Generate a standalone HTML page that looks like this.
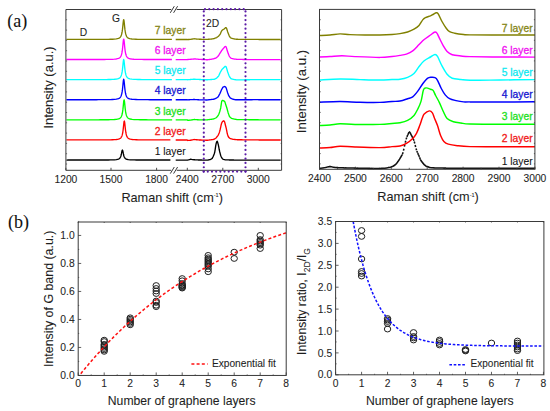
<!DOCTYPE html><html><head><meta charset="utf-8"><style>html,body{margin:0;padding:0;background:#fff;}svg{display:block;}text{font-family:'Liberation Sans',sans-serif;stroke-width:0.08px;}text.c{stroke-width:0.3px;}</style></head><body>
<svg width="550" height="411" viewBox="0 0 550 411">
<rect width="550" height="411" fill="#fff"/>
<text x="7.3" y="26.5" font-family="Liberation Serif" font-size="18" fill="#111" stroke="#111" style="font-family:'Liberation Serif',serif">(a)</text>
<text x="8" y="227.7" font-family="Liberation Serif" font-size="18" fill="#111" stroke="#111" style="font-family:'Liberation Serif',serif">(b)</text>
<path d="M66.4,39.44 L68.4,39.44 L70.4,39.44 L72.4,39.44 L74.4,39.44 L76.4,39.44 L78.4,39.43 L80.4,39.43 L82.4,39.43 L84.4,39.43 L86.4,39.43 L88.4,39.43 L90.4,39.42 L92.4,39.42 L94.4,39.41 L96.4,39.41 L98.4,39.4 L100.4,39.39 L102.4,39.38 L104.4,39.37 L106.4,39.35 L108.4,39.32 L110.4,39.28 L112.4,39.21 L114.4,39.1 L116.4,38.89 L118.4,38.41 L118.65,38.31 L118.9,38.19 L119.15,38.06 L119.4,37.91 L119.65,37.73 L119.9,37.52 L120.15,37.27 L120.4,36.97 L120.65,36.6 L120.9,36.16 L121.15,35.61 L121.4,34.94 L121.65,34.08 L121.9,33.01 L122.15,31.65 L122.4,29.94 L122.65,27.84 L122.9,25.4 L123.15,22.86 L123.4,20.73 L123.65,19.68 L123.9,20.14 L124.15,21.92 L124.4,24.38 L124.65,26.9 L124.9,29.15 L125.15,31.01 L125.4,32.5 L125.65,33.68 L125.9,34.62 L126.15,35.36 L126.4,35.96 L126.65,36.44 L126.9,36.83 L127.15,37.15 L127.4,37.42 L127.65,37.65 L127.9,37.84 L128.15,38 L128.4,38.14 L128.65,38.26 L128.9,38.37 L129.15,38.46 L129.4,38.54 L129.65,38.61 L129.9,38.68 L131.9,39 L133.9,39.16 L135.9,39.24 L137.9,39.3 L139.9,39.33 L141.9,39.36 L143.9,39.37 L145.9,39.39 L147.9,39.4 L149.9,39.41 L151.9,39.41 L153.9,39.42 L155.9,39.42 L157.9,39.42 L159.9,39.43 L161.9,39.43 L163.9,39.43 L165.9,39.43 L167.9,39.43 L169.9,39.44 L171.9,39.44" fill="none" stroke="#808000" stroke-width="1.35" stroke-linejoin="round"/>
<path d="M175.7,39.45 L176.2,39.45 L176.7,39.45 L177.2,39.45 L177.7,39.45 L178.2,39.45 L178.7,39.45 L179.2,39.45 L179.7,39.45 L180.2,39.45 L180.7,39.45 L181.2,39.45 L181.7,39.45 L182.2,39.45 L182.7,39.45 L183.2,39.45 L183.7,39.45 L184.2,39.45 L184.7,39.45 L185.2,39.45 L185.7,39.45 L186.2,39.45 L186.7,39.45 L187.2,39.45 L187.7,39.58 L188.2,39.54 L188.7,39.5 L189.2,39.46 L189.7,39.43 L190.2,39.39 L190.7,39.35 L191.2,39.27 L191.7,39.18 L192.2,39.09 L192.7,39 L193.2,38.91 L193.7,38.82 L194.2,38.77 L194.7,38.83 L195.2,38.88 L195.7,38.94 L196.2,39 L196.7,39.05 L197.2,39.11 L197.7,39.14 L198.2,39.16 L198.7,39.19 L199.2,39.21 L199.7,39.23 L200.2,39.25 L200.7,39.27 L201.2,39.29 L201.7,39.32 L202.2,39.34 L202.7,39.34 L203.2,39.34 L203.7,39.34 L204.2,39.34 L204.7,39.34 L205.2,39.34 L205.7,39.34 L206.2,39.34 L206.7,39.34 L207.2,39.34 L207.7,39.31 L208.2,39.28 L208.7,39.25 L209.2,39.21 L209.7,39.18 L210.2,39.15 L210.7,39.11 L211.2,39.08 L211.7,38.99 L212.2,38.9 L212.7,38.81 L213.2,38.72 L213.7,38.63 L214.2,38.49 L214.7,38.32 L215.2,38.15 L215.7,37.98 L216.2,37.81 L216.7,37.53 L217.2,37.17 L217.7,36.82 L218.2,36.46 L218.7,36.01 L219.2,35.39 L219.7,34.78 L220.2,34.12 L220.7,32.92 L221.2,31.71 L221.7,30.8 L222.2,30.18 L222.7,29.83 L223.2,29.53 L223.7,29.23 L224.2,28.87 L224.7,28.45 L225.2,28.03 L225.7,27.62 L226.2,27.77 L226.7,28.68 L227.2,30.3 L227.7,31.92 L228.2,33.25 L228.7,34.54 L229.2,35.83 L229.7,36.65 L230.2,37.46 L230.7,37.78 L231.2,38.02 L231.7,38.26 L232.2,38.44 L232.7,38.56 L233.2,38.67 L233.7,38.79 L234.2,38.91 L234.7,39.03 L235.2,39.11 L235.7,39.16 L236.2,39.21 L236.7,39.26 L237.2,39.29 L237.7,39.29 L238.2,39.3 L238.7,39.3 L239.2,39.3 L239.7,39.3 L240.2,39.31 L240.7,39.31 L241.2,39.31 L241.7,39.31 L242.2,39.32 L242.7,39.32 L243.2,39.32 L243.7,39.33 L244.2,39.33 L244.7,39.33 L245.2,39.33 L245.7,39.34 L246.2,39.34 L246.7,39.34 L247.2,39.34 L247.7,39.34 L248.2,39.34 L248.7,39.34 L249.2,39.34 L249.7,39.34 L250.2,39.34 L250.7,39.34 L251.2,39.34 L251.7,39.34 L252.2,39.34 L252.7,39.34 L253.2,39.34 L253.7,39.34 L254.2,39.34 L254.7,39.34 L255.2,39.34 L255.7,39.34 L256.2,39.34 L256.7,39.34 L257.2,39.34 L257.7,39.34 L258.2,39.34 L258.7,39.45 L259.2,39.45 L259.7,39.45 L260.2,39.45 L260.7,39.45 L261.2,39.45 L261.7,39.45 L262.2,39.45 L262.7,39.45 L263.2,39.45 L263.7,39.45 L264.2,39.45 L264.7,39.45 L265.2,39.45 L265.7,39.45 L266.2,39.45 L266.7,39.45 L267.2,39.45 L267.7,39.45 L268.2,39.45 L268.7,39.45 L269.2,39.45 L269.7,39.45 L270.2,39.45 L270.7,39.45 L271.2,39.45 L271.7,39.45 L272.2,39.45 L272.7,39.45 L273.2,39.45 L273.7,39.45 L274.2,39.45 L274.7,39.45 L275.2,39.45 L275.7,39.45 L276.2,39.45 L276.7,39.45 L277.2,39.45 L277.7,39.45 L278.2,39.45 L278.7,39.45 L279.2,39.45 L279.7,39.45 L280.2,39.45 L280.7,39.45" fill="none" stroke="#808000" stroke-width="1.35" stroke-linejoin="round"/>
<path d="M66.4,59.54 L68.4,59.54 L70.4,59.54 L72.4,59.54 L74.4,59.54 L76.4,59.54 L78.4,59.53 L80.4,59.53 L82.4,59.53 L84.4,59.53 L86.4,59.53 L88.4,59.52 L90.4,59.52 L92.4,59.52 L94.4,59.51 L96.4,59.51 L98.4,59.5 L100.4,59.49 L102.4,59.48 L104.4,59.46 L106.4,59.44 L108.4,59.41 L110.4,59.37 L112.4,59.3 L114.4,59.19 L116.4,58.97 L118.4,58.47 L118.65,58.37 L118.9,58.25 L119.15,58.11 L119.4,57.95 L119.65,57.77 L119.9,57.55 L120.15,57.29 L120.4,56.98 L120.65,56.6 L120.9,56.14 L121.15,55.58 L121.4,54.88 L121.65,53.99 L121.9,52.88 L122.15,51.47 L122.4,49.7 L122.65,47.53 L122.9,45.01 L123.15,42.38 L123.4,40.17 L123.65,39.08 L123.9,39.56 L124.15,41.4 L124.4,43.94 L124.65,46.56 L124.9,48.88 L125.15,50.81 L125.4,52.36 L125.65,53.58 L125.9,54.55 L126.15,55.32 L126.4,55.93 L126.65,56.43 L126.9,56.84 L127.15,57.17 L127.4,57.45 L127.65,57.68 L127.9,57.88 L128.15,58.05 L128.4,58.2 L128.65,58.32 L128.9,58.43 L129.15,58.53 L129.4,58.61 L129.65,58.68 L129.9,58.75 L131.9,59.08 L133.9,59.25 L135.9,59.34 L137.9,59.39 L139.9,59.43 L141.9,59.45 L143.9,59.47 L145.9,59.49 L147.9,59.5 L149.9,59.5 L151.9,59.51 L153.9,59.51 L155.9,59.52 L157.9,59.52 L159.9,59.53 L161.9,59.53 L163.9,59.53 L165.9,59.53 L167.9,59.53 L169.9,59.54 L171.9,59.54" fill="none" stroke="#ff00ff" stroke-width="1.35" stroke-linejoin="round"/>
<path d="M175.7,59.55 L176.2,59.55 L176.7,59.55 L177.2,59.55 L177.7,59.55 L178.2,59.55 L178.7,59.55 L179.2,59.55 L179.7,59.55 L180.2,59.55 L180.7,59.55 L181.2,59.55 L181.7,59.55 L182.2,59.55 L182.7,59.55 L183.2,59.55 L183.7,59.55 L184.2,59.55 L184.7,59.55 L185.2,59.55 L185.7,59.55 L186.2,59.55 L186.7,59.55 L187.2,59.55 L187.7,59.52 L188.2,59.48 L188.7,59.44 L189.2,59.4 L189.7,59.36 L190.2,59.33 L190.7,59.29 L191.2,59.24 L191.7,59.19 L192.2,59.15 L192.7,59.1 L193.2,59.05 L193.7,59.01 L194.2,58.96 L194.7,58.91 L195.2,58.95 L195.7,59 L196.2,59.05 L196.7,59.1 L197.2,59.15 L197.7,59.2 L198.2,59.25 L198.7,59.3 L199.2,59.35 L199.7,59.37 L200.2,59.4 L200.7,59.42 L201.2,59.45 L201.7,59.47 L202.2,59.5 L202.7,59.53 L203.2,59.55 L203.7,59.58 L204.2,59.6 L204.7,59.63 L205.2,59.66 L205.7,59.68 L206.2,59.71 L206.7,59.73 L207.2,59.76 L207.7,59.71 L208.2,59.65 L208.7,59.59 L209.2,59.53 L209.7,59.47 L210.2,59.41 L210.7,59.35 L211.2,59.29 L211.7,59.18 L212.2,59.07 L212.7,58.96 L213.2,58.85 L213.7,58.74 L214.2,58.59 L214.7,58.43 L215.2,58.26 L215.7,58.1 L216.2,57.84 L216.7,57.43 L217.2,57.01 L217.7,56.6 L218.2,56.1 L218.7,55.29 L219.2,54.48 L219.7,53.67 L220.2,52.86 L220.7,52.07 L221.2,51.27 L221.7,50.48 L222.2,49.82 L222.7,49.24 L223.2,48.66 L223.7,48.08 L224.2,47.5 L224.7,46.92 L225.2,46.34 L225.7,46.54 L226.2,47.17 L226.7,48.82 L227.2,50.43 L227.7,52.01 L228.2,53.58 L228.7,54.79 L229.2,56.01 L229.7,56.87 L230.2,57.37 L230.7,57.88 L231.2,58.34 L231.7,58.46 L232.2,58.58 L232.7,58.69 L233.2,58.81 L233.7,58.93 L234.2,59.03 L234.7,59.09 L235.2,59.14 L235.7,59.19 L236.2,59.25 L236.7,59.3 L237.2,59.34 L237.7,59.35 L238.2,59.36 L238.7,59.37 L239.2,59.38 L239.7,59.39 L240.2,59.4 L240.7,59.42 L241.2,59.43 L241.7,59.44 L242.2,59.45 L242.7,59.46 L243.2,59.47 L243.7,59.48 L244.2,59.49 L244.7,59.5 L245.2,59.51 L245.7,59.52 L246.2,59.53 L246.7,59.55 L247.2,59.55 L247.7,59.55 L248.2,59.56 L248.7,59.56 L249.2,59.56 L249.7,59.56 L250.2,59.57 L250.7,59.57 L251.2,59.57 L251.7,59.57 L252.2,59.57 L252.7,59.58 L253.2,59.58 L253.7,59.58 L254.2,59.58 L254.7,59.59 L255.2,59.59 L255.7,59.59 L256.2,59.59 L256.7,59.6 L257.2,59.6 L257.7,59.6 L258.2,59.6 L258.7,59.55 L259.2,59.55 L259.7,59.55 L260.2,59.55 L260.7,59.55 L261.2,59.55 L261.7,59.55 L262.2,59.55 L262.7,59.55 L263.2,59.55 L263.7,59.55 L264.2,59.55 L264.7,59.55 L265.2,59.55 L265.7,59.55 L266.2,59.55 L266.7,59.55 L267.2,59.55 L267.7,59.55 L268.2,59.55 L268.7,59.55 L269.2,59.55 L269.7,59.55 L270.2,59.55 L270.7,59.55 L271.2,59.55 L271.7,59.55 L272.2,59.55 L272.7,59.55 L273.2,59.55 L273.7,59.55 L274.2,59.55 L274.7,59.55 L275.2,59.55 L275.7,59.55 L276.2,59.55 L276.7,59.55 L277.2,59.55 L277.7,59.55 L278.2,59.55 L278.7,59.55 L279.2,59.55 L279.7,59.55 L280.2,59.55 L280.7,59.55" fill="none" stroke="#ff00ff" stroke-width="1.35" stroke-linejoin="round"/>
<path d="M66.4,79.64 L68.4,79.64 L70.4,79.64 L72.4,79.64 L74.4,79.64 L76.4,79.64 L78.4,79.63 L80.4,79.63 L82.4,79.63 L84.4,79.63 L86.4,79.63 L88.4,79.62 L90.4,79.62 L92.4,79.62 L94.4,79.61 L96.4,79.61 L98.4,79.6 L100.4,79.59 L102.4,79.58 L104.4,79.57 L106.4,79.55 L108.4,79.52 L110.4,79.47 L112.4,79.41 L114.4,79.29 L116.4,79.07 L118.4,78.59 L118.65,78.48 L118.9,78.37 L119.15,78.23 L119.4,78.08 L119.65,77.89 L119.9,77.68 L120.15,77.42 L120.4,77.12 L120.65,76.75 L120.9,76.29 L121.15,75.74 L121.4,75.04 L121.65,74.18 L121.9,73.08 L122.15,71.69 L122.4,69.95 L122.65,67.81 L122.9,65.32 L123.15,62.73 L123.4,60.55 L123.65,59.48 L123.9,59.95 L124.15,61.77 L124.4,64.27 L124.65,66.85 L124.9,69.14 L125.15,71.04 L125.4,72.56 L125.65,73.77 L125.9,74.72 L126.15,75.48 L126.4,76.08 L126.65,76.58 L126.9,76.98 L127.15,77.31 L127.4,77.58 L127.65,77.81 L127.9,78.01 L128.15,78.17 L128.4,78.32 L128.65,78.44 L128.9,78.55 L129.15,78.64 L129.4,78.72 L129.65,78.8 L129.9,78.86 L131.9,79.19 L133.9,79.35 L135.9,79.44 L137.9,79.49 L139.9,79.53 L141.9,79.56 L143.9,79.57 L145.9,79.59 L147.9,79.6 L149.9,79.6 L151.9,79.61 L153.9,79.62 L155.9,79.62 L157.9,79.62 L159.9,79.63 L161.9,79.63 L163.9,79.63 L165.9,79.63 L167.9,79.63 L169.9,79.64 L171.9,79.64" fill="none" stroke="#00ffff" stroke-width="1.35" stroke-linejoin="round"/>
<path d="M175.7,79.65 L176.2,79.65 L176.7,79.65 L177.2,79.65 L177.7,79.65 L178.2,79.65 L178.7,79.65 L179.2,79.65 L179.7,79.65 L180.2,79.65 L180.7,79.65 L181.2,79.65 L181.7,79.65 L182.2,79.65 L182.7,79.65 L183.2,79.65 L183.7,79.65 L184.2,79.65 L184.7,79.65 L185.2,79.65 L185.7,79.65 L186.2,79.65 L186.7,79.65 L187.2,79.65 L187.7,79.73 L188.2,79.69 L188.7,79.65 L189.2,79.61 L189.7,79.57 L190.2,79.53 L190.7,79.49 L191.2,79.45 L191.7,79.41 L192.2,79.37 L192.7,79.33 L193.2,79.29 L193.7,79.25 L194.2,79.23 L194.7,79.25 L195.2,79.28 L195.7,79.3 L196.2,79.33 L196.7,79.35 L197.2,79.37 L197.7,79.4 L198.2,79.42 L198.7,79.45 L199.2,79.47 L199.7,79.5 L200.2,79.52 L200.7,79.54 L201.2,79.56 L201.7,79.58 L202.2,79.59 L202.7,79.61 L203.2,79.62 L203.7,79.64 L204.2,79.66 L204.7,79.67 L205.2,79.69 L205.7,79.71 L206.2,79.72 L206.7,79.74 L207.2,79.75 L207.7,79.73 L208.2,79.7 L208.7,79.66 L209.2,79.63 L209.7,79.59 L210.2,79.56 L210.7,79.53 L211.2,79.49 L211.7,79.47 L212.2,79.45 L212.7,79.43 L213.2,79.41 L213.7,79.39 L214.2,79.26 L214.7,79.05 L215.2,78.85 L215.7,78.65 L216.2,78.45 L216.7,78.07 L217.2,77.58 L217.7,77.08 L218.2,76.59 L218.7,75.86 L219.2,74.75 L219.7,73.64 L220.2,72.53 L220.7,71.63 L221.2,70.72 L221.7,69.82 L222.2,69.17 L222.7,68.69 L223.2,68.2 L223.7,67.71 L224.2,67.24 L224.7,66.79 L225.2,66.34 L225.7,66.42 L226.2,67.04 L226.7,68.58 L227.2,70.29 L227.7,72 L228.2,73.37 L228.7,74.69 L229.2,76 L229.7,76.98 L230.2,77.61 L230.7,78.25 L231.2,78.81 L231.7,78.93 L232.2,79.05 L232.7,79.17 L233.2,79.29 L233.7,79.41 L234.2,79.51 L234.7,79.58 L235.2,79.66 L235.7,79.73 L236.2,79.8 L236.7,79.87 L237.2,79.91 L237.7,79.91 L238.2,79.9 L238.7,79.89 L239.2,79.88 L239.7,79.87 L240.2,79.87 L240.7,79.86 L241.2,79.85 L241.7,79.84 L242.2,79.83 L242.7,79.83 L243.2,79.82 L243.7,79.81 L244.2,79.8 L244.7,79.79 L245.2,79.78 L245.7,79.78 L246.2,79.77 L246.7,79.76 L247.2,79.75 L247.7,79.74 L248.2,79.73 L248.7,79.72 L249.2,79.71 L249.7,79.71 L250.2,79.7 L250.7,79.69 L251.2,79.68 L251.7,79.67 L252.2,79.66 L252.7,79.65 L253.2,79.64 L253.7,79.63 L254.2,79.62 L254.7,79.61 L255.2,79.6 L255.7,79.59 L256.2,79.58 L256.7,79.58 L257.2,79.57 L257.7,79.56 L258.2,79.55 L258.7,79.65 L259.2,79.65 L259.7,79.65 L260.2,79.65 L260.7,79.65 L261.2,79.65 L261.7,79.65 L262.2,79.65 L262.7,79.65 L263.2,79.65 L263.7,79.65 L264.2,79.65 L264.7,79.65 L265.2,79.65 L265.7,79.65 L266.2,79.65 L266.7,79.65 L267.2,79.65 L267.7,79.65 L268.2,79.65 L268.7,79.65 L269.2,79.65 L269.7,79.65 L270.2,79.65 L270.7,79.65 L271.2,79.65 L271.7,79.65 L272.2,79.65 L272.7,79.65 L273.2,79.65 L273.7,79.65 L274.2,79.65 L274.7,79.65 L275.2,79.65 L275.7,79.65 L276.2,79.65 L276.7,79.65 L277.2,79.65 L277.7,79.65 L278.2,79.65 L278.7,79.65 L279.2,79.65 L279.7,79.65 L280.2,79.65 L280.7,79.65" fill="none" stroke="#00ffff" stroke-width="1.35" stroke-linejoin="round"/>
<path d="M66.4,99.74 L68.4,99.74 L70.4,99.74 L72.4,99.74 L74.4,99.74 L76.4,99.74 L78.4,99.73 L80.4,99.73 L82.4,99.73 L84.4,99.73 L86.4,99.73 L88.4,99.72 L90.4,99.72 L92.4,99.72 L94.4,99.71 L96.4,99.71 L98.4,99.7 L100.4,99.69 L102.4,99.68 L104.4,99.66 L106.4,99.64 L108.4,99.61 L110.4,99.57 L112.4,99.5 L114.4,99.39 L116.4,99.17 L118.4,98.67 L118.65,98.57 L118.9,98.45 L119.15,98.31 L119.4,98.15 L119.65,97.97 L119.9,97.75 L120.15,97.49 L120.4,97.18 L120.65,96.8 L120.9,96.34 L121.15,95.78 L121.4,95.08 L121.65,94.19 L121.9,93.08 L122.15,91.67 L122.4,89.9 L122.65,87.73 L122.9,85.21 L123.15,82.58 L123.4,80.37 L123.65,79.28 L123.9,79.76 L124.15,81.6 L124.4,84.14 L124.65,86.76 L124.9,89.08 L125.15,91.01 L125.4,92.56 L125.65,93.78 L125.9,94.75 L126.15,95.52 L126.4,96.13 L126.65,96.63 L126.9,97.04 L127.15,97.37 L127.4,97.65 L127.65,97.88 L127.9,98.08 L128.15,98.25 L128.4,98.4 L128.65,98.52 L128.9,98.63 L129.15,98.73 L129.4,98.81 L129.65,98.88 L129.9,98.95 L131.9,99.28 L133.9,99.45 L135.9,99.54 L137.9,99.59 L139.9,99.63 L141.9,99.65 L143.9,99.67 L145.9,99.69 L147.9,99.7 L149.9,99.7 L151.9,99.71 L153.9,99.71 L155.9,99.72 L157.9,99.72 L159.9,99.73 L161.9,99.73 L163.9,99.73 L165.9,99.73 L167.9,99.73 L169.9,99.74 L171.9,99.74" fill="none" stroke="#0000ff" stroke-width="1.35" stroke-linejoin="round"/>
<path d="M175.7,99.75 L176.2,99.75 L176.7,99.75 L177.2,99.75 L177.7,99.75 L178.2,99.75 L178.7,99.75 L179.2,99.75 L179.7,99.75 L180.2,99.75 L180.7,99.75 L181.2,99.75 L181.7,99.75 L182.2,99.75 L182.7,99.75 L183.2,99.75 L183.7,99.75 L184.2,99.75 L184.7,99.75 L185.2,99.75 L185.7,99.75 L186.2,99.75 L186.7,99.75 L187.2,99.75 L187.7,99.83 L188.2,99.81 L188.7,99.78 L189.2,99.75 L189.7,99.72 L190.2,99.7 L190.7,99.67 L191.2,99.64 L191.7,99.61 L192.2,99.59 L192.7,99.56 L193.2,99.53 L193.7,99.5 L194.2,99.49 L194.7,99.52 L195.2,99.56 L195.7,99.59 L196.2,99.62 L196.7,99.65 L197.2,99.69 L197.7,99.72 L198.2,99.75 L198.7,99.78 L199.2,99.81 L199.7,99.85 L200.2,99.88 L200.7,99.91 L201.2,99.91 L201.7,99.92 L202.2,99.92 L202.7,99.93 L203.2,99.93 L203.7,99.93 L204.2,99.94 L204.7,99.94 L205.2,99.95 L205.7,99.95 L206.2,99.96 L206.7,99.96 L207.2,99.96 L207.7,99.91 L208.2,99.85 L208.7,99.79 L209.2,99.73 L209.7,99.67 L210.2,99.61 L210.7,99.55 L211.2,99.49 L211.7,99.44 L212.2,99.39 L212.7,99.34 L213.2,99.28 L213.7,99.23 L214.2,99.06 L214.7,98.82 L215.2,98.57 L215.7,98.33 L216.2,98.08 L216.7,97.8 L217.2,97.5 L217.7,97.2 L218.2,96.76 L218.7,95.85 L219.2,94.95 L219.7,94.04 L220.2,92.88 L220.7,91.67 L221.2,90.46 L221.7,89.4 L222.2,88.48 L222.7,87.56 L223.2,87 L223.7,86.77 L224.2,86.54 L224.7,86.62 L225.2,86.71 L225.7,87.17 L226.2,88.01 L226.7,89.62 L227.2,91.37 L227.7,92.98 L228.2,94.31 L228.7,95.64 L229.2,96.48 L229.7,97.18 L230.2,97.88 L230.7,98.19 L231.2,98.43 L231.7,98.67 L232.2,98.91 L232.7,99.09 L233.2,99.23 L233.7,99.37 L234.2,99.5 L234.7,99.64 L235.2,99.7 L235.7,99.7 L236.2,99.7 L236.7,99.7 L237.2,99.7 L237.7,99.7 L238.2,99.7 L238.7,99.71 L239.2,99.71 L239.7,99.71 L240.2,99.71 L240.7,99.72 L241.2,99.72 L241.7,99.72 L242.2,99.72 L242.7,99.73 L243.2,99.73 L243.7,99.73 L244.2,99.74 L244.7,99.74 L245.2,99.74 L245.7,99.74 L246.2,99.75 L246.7,99.75 L247.2,99.75 L247.7,99.74 L248.2,99.74 L248.7,99.73 L249.2,99.73 L249.7,99.72 L250.2,99.72 L250.7,99.71 L251.2,99.71 L251.7,99.71 L252.2,99.7 L252.7,99.7 L253.2,99.69 L253.7,99.69 L254.2,99.68 L254.7,99.68 L255.2,99.67 L255.7,99.67 L256.2,99.66 L256.7,99.66 L257.2,99.65 L257.7,99.65 L258.2,99.65 L258.7,99.75 L259.2,99.75 L259.7,99.75 L260.2,99.75 L260.7,99.75 L261.2,99.75 L261.7,99.75 L262.2,99.75 L262.7,99.75 L263.2,99.75 L263.7,99.75 L264.2,99.75 L264.7,99.75 L265.2,99.75 L265.7,99.75 L266.2,99.75 L266.7,99.75 L267.2,99.75 L267.7,99.75 L268.2,99.75 L268.7,99.75 L269.2,99.75 L269.7,99.75 L270.2,99.75 L270.7,99.75 L271.2,99.75 L271.7,99.75 L272.2,99.75 L272.7,99.75 L273.2,99.75 L273.7,99.75 L274.2,99.75 L274.7,99.75 L275.2,99.75 L275.7,99.75 L276.2,99.75 L276.7,99.75 L277.2,99.75 L277.7,99.75 L278.2,99.75 L278.7,99.75 L279.2,99.75 L279.7,99.75 L280.2,99.75 L280.7,99.75" fill="none" stroke="#0000ff" stroke-width="1.35" stroke-linejoin="round"/>
<path d="M66.4,119.84 L68.4,119.84 L70.4,119.84 L72.4,119.84 L74.4,119.84 L76.4,119.84 L78.4,119.84 L80.4,119.83 L82.4,119.83 L84.4,119.83 L86.4,119.83 L88.4,119.83 L90.4,119.82 L92.4,119.82 L94.4,119.81 L96.4,119.81 L98.4,119.8 L100.4,119.79 L102.4,119.78 L104.4,119.77 L106.4,119.75 L108.4,119.72 L110.4,119.68 L112.4,119.62 L114.4,119.52 L116.4,119.34 L118.4,118.93 L118.65,118.85 L118.9,118.76 L119.15,118.65 L119.4,118.53 L119.65,118.39 L119.9,118.22 L120.15,118.03 L120.4,117.8 L120.65,117.53 L120.9,117.2 L121.15,116.81 L121.4,116.32 L121.65,115.72 L121.9,114.97 L122.15,114.03 L122.4,112.83 L122.65,111.32 L122.9,109.44 L123.15,107.17 L123.4,104.62 L123.65,102.14 L123.9,100.35 L124.15,99.88 L124.4,100.94 L124.65,103.09 L124.9,105.66 L125.15,108.12 L125.4,110.24 L125.65,111.97 L125.9,113.34 L126.15,114.43 L126.4,115.29 L126.65,115.98 L126.9,116.53 L127.15,116.97 L127.4,117.34 L127.65,117.64 L127.9,117.9 L128.15,118.11 L128.4,118.29 L128.65,118.45 L128.9,118.58 L129.15,118.7 L129.4,118.8 L129.65,118.88 L129.9,118.96 L130.15,119.03 L132.15,119.38 L134.15,119.55 L136.15,119.64 L138.15,119.69 L140.15,119.73 L142.15,119.75 L144.15,119.77 L146.15,119.79 L148.15,119.8 L150.15,119.8 L152.15,119.81 L154.15,119.82 L156.15,119.82 L158.15,119.82 L160.15,119.83 L162.15,119.83 L164.15,119.83 L166.15,119.83 L168.15,119.83 L170.15,119.84 L172.15,119.84" fill="none" stroke="#00ff00" stroke-width="1.35" stroke-linejoin="round"/>
<path d="M175.7,119.85 L176.2,119.85 L176.7,119.85 L177.2,119.85 L177.7,119.85 L178.2,119.85 L178.7,119.85 L179.2,119.85 L179.7,119.85 L180.2,119.85 L180.7,119.85 L181.2,119.85 L181.7,119.85 L182.2,119.85 L182.7,119.85 L183.2,119.85 L183.7,119.85 L184.2,119.85 L184.7,119.85 L185.2,119.85 L185.7,119.85 L186.2,119.85 L186.7,119.85 L187.2,119.85 L187.7,120.35 L188.2,120.32 L188.7,120.28 L189.2,120.24 L189.7,120.2 L190.2,120.16 L190.7,120.12 L191.2,120.03 L191.7,119.94 L192.2,119.84 L192.7,119.74 L193.2,119.64 L193.7,119.55 L194.2,119.49 L194.7,119.52 L195.2,119.56 L195.7,119.6 L196.2,119.64 L196.7,119.67 L197.2,119.71 L197.7,119.75 L198.2,119.79 L198.7,119.83 L199.2,119.85 L199.7,119.85 L200.2,119.84 L200.7,119.84 L201.2,119.84 L201.7,119.83 L202.2,119.83 L202.7,119.83 L203.2,119.82 L203.7,119.82 L204.2,119.82 L204.7,119.81 L205.2,119.81 L205.7,119.81 L206.2,119.8 L206.7,119.8 L207.2,119.8 L207.7,119.75 L208.2,119.69 L208.7,119.62 L209.2,119.56 L209.7,119.5 L210.2,119.44 L210.7,119.38 L211.2,119.32 L211.7,119.24 L212.2,119.16 L212.7,119.08 L213.2,119 L213.7,118.92 L214.2,118.73 L214.7,118.49 L215.2,118.24 L215.7,118 L216.2,117.75 L216.7,117.28 L217.2,116.64 L217.7,116.01 L218.2,115.38 L218.7,114.47 L219.2,113.11 L219.7,111.74 L220.2,109.9 L220.7,107.97 L221.2,104.68 L221.7,101.23 L222.2,100.64 L222.7,100.36 L223.2,100.6 L223.7,100.84 L224.2,101.14 L224.7,101.52 L225.2,102.86 L225.7,104.49 L226.2,106.01 L226.7,107.52 L227.2,109.23 L227.7,111.08 L228.2,112.92 L228.7,114.41 L229.2,115.91 L229.7,116.85 L230.2,117.26 L230.7,117.67 L231.2,118.08 L231.7,118.4 L232.2,118.54 L232.7,118.68 L233.2,118.82 L233.7,118.95 L234.2,119.08 L234.7,119.17 L235.2,119.26 L235.7,119.35 L236.2,119.44 L236.7,119.53 L237.2,119.58 L237.7,119.59 L238.2,119.6 L238.7,119.6 L239.2,119.61 L239.7,119.61 L240.2,119.62 L240.7,119.62 L241.2,119.63 L241.7,119.63 L242.2,119.64 L242.7,119.64 L243.2,119.65 L243.7,119.65 L244.2,119.66 L244.7,119.67 L245.2,119.67 L245.7,119.68 L246.2,119.68 L246.7,119.69 L247.2,119.69 L247.7,119.69 L248.2,119.7 L248.7,119.7 L249.2,119.7 L249.7,119.7 L250.2,119.7 L250.7,119.71 L251.2,119.71 L251.7,119.71 L252.2,119.71 L252.7,119.72 L253.2,119.72 L253.7,119.72 L254.2,119.72 L254.7,119.73 L255.2,119.73 L255.7,119.73 L256.2,119.73 L256.7,119.73 L257.2,119.74 L257.7,119.74 L258.2,119.74 L258.7,119.85 L259.2,119.85 L259.7,119.85 L260.2,119.85 L260.7,119.85 L261.2,119.85 L261.7,119.85 L262.2,119.85 L262.7,119.85 L263.2,119.85 L263.7,119.85 L264.2,119.85 L264.7,119.85 L265.2,119.85 L265.7,119.85 L266.2,119.85 L266.7,119.85 L267.2,119.85 L267.7,119.85 L268.2,119.85 L268.7,119.85 L269.2,119.85 L269.7,119.85 L270.2,119.85 L270.7,119.85 L271.2,119.85 L271.7,119.85 L272.2,119.85 L272.7,119.85 L273.2,119.85 L273.7,119.85 L274.2,119.85 L274.7,119.85 L275.2,119.85 L275.7,119.85 L276.2,119.85 L276.7,119.85 L277.2,119.85 L277.7,119.85 L278.2,119.85 L278.7,119.85 L279.2,119.85 L279.7,119.85 L280.2,119.85 L280.7,119.85" fill="none" stroke="#00ff00" stroke-width="1.35" stroke-linejoin="round"/>
<path d="M66.4,139.94 L68.4,139.94 L70.4,139.94 L72.4,139.94 L74.4,139.94 L76.4,139.94 L78.4,139.94 L80.4,139.93 L82.4,139.93 L84.4,139.93 L86.4,139.93 L88.4,139.93 L90.4,139.92 L92.4,139.92 L94.4,139.92 L96.4,139.91 L98.4,139.91 L100.4,139.9 L102.4,139.89 L104.4,139.88 L106.4,139.86 L108.4,139.83 L110.4,139.8 L112.4,139.74 L114.4,139.65 L116.4,139.49 L118.4,139.13 L118.65,139.06 L118.9,138.98 L119.15,138.89 L119.4,138.79 L119.65,138.67 L119.9,138.53 L120.15,138.37 L120.4,138.18 L120.65,137.96 L120.9,137.69 L121.15,137.37 L121.4,136.97 L121.65,136.49 L121.9,135.9 L122.15,135.15 L122.4,134.21 L122.65,133.02 L122.9,131.52 L123.15,129.66 L123.4,127.44 L123.65,124.99 L123.9,122.71 L124.15,121.22 L124.4,121.07 L124.65,122.33 L124.9,124.51 L125.15,126.96 L125.4,129.24 L125.65,131.18 L125.9,132.75 L126.15,133.99 L126.4,134.98 L126.65,135.76 L126.9,136.38 L127.15,136.88 L127.4,137.29 L127.65,137.63 L127.9,137.91 L128.15,138.14 L128.4,138.33 L128.65,138.5 L128.9,138.64 L129.15,138.77 L129.4,138.87 L129.65,138.97 L129.9,139.05 L130.15,139.12 L130.4,139.18 L132.4,139.51 L134.4,139.66 L136.4,139.75 L138.4,139.8 L140.4,139.84 L142.4,139.86 L144.4,139.88 L146.4,139.89 L148.4,139.9 L150.4,139.91 L152.4,139.91 L154.4,139.92 L156.4,139.92 L158.4,139.92 L160.4,139.93 L162.4,139.93 L164.4,139.93 L166.4,139.93 L168.4,139.93 L170.4,139.94" fill="none" stroke="#ff0000" stroke-width="1.35" stroke-linejoin="round"/>
<path d="M175.7,139.95 L176.2,139.95 L176.7,139.95 L177.2,139.95 L177.7,139.95 L178.2,139.95 L178.7,139.95 L179.2,139.95 L179.7,139.95 L180.2,139.95 L180.7,139.95 L181.2,139.95 L181.7,139.95 L182.2,139.95 L182.7,139.95 L183.2,139.95 L183.7,139.95 L184.2,139.95 L184.7,139.95 L185.2,139.95 L185.7,139.95 L186.2,139.95 L186.7,139.95 L187.2,139.95 L187.7,140.45 L188.2,140.42 L188.7,140.38 L189.2,140.34 L189.7,140.3 L190.2,140.26 L190.7,140.22 L191.2,140.13 L191.7,140.02 L192.2,139.92 L192.7,139.81 L193.2,139.71 L193.7,139.6 L194.2,139.53 L194.7,139.58 L195.2,139.62 L195.7,139.66 L196.2,139.71 L196.7,139.75 L197.2,139.79 L197.7,139.84 L198.2,139.88 L198.7,139.92 L199.2,139.96 L199.7,139.98 L200.2,140 L200.7,140.02 L201.2,140.03 L201.7,140.05 L202.2,140.07 L202.7,140.09 L203.2,140.11 L203.7,140.13 L204.2,140.15 L204.7,140.17 L205.2,140.19 L205.7,140.21 L206.2,140.23 L206.7,140.25 L207.2,140.27 L207.7,140.21 L208.2,140.15 L208.7,140.08 L209.2,140.01 L209.7,139.94 L210.2,139.88 L210.7,139.81 L211.2,139.74 L211.7,139.68 L212.2,139.62 L212.7,139.56 L213.2,139.5 L213.7,139.44 L214.2,139.21 L214.7,138.88 L215.2,138.55 L215.7,138.22 L216.2,137.77 L216.7,137.13 L217.2,136.49 L217.7,135.84 L218.2,135.1 L218.7,134.01 L219.2,132.92 L219.7,131.21 L220.2,129.27 L220.7,127.06 L221.2,124.69 L221.7,122.95 L222.2,122.03 L222.7,121.52 L223.2,121.01 L223.7,120.77 L224.2,121.26 L224.7,122.11 L225.2,124.22 L225.7,126.22 L226.2,128.2 L226.7,130.69 L227.2,133.27 L227.7,135.02 L228.2,136.46 L228.7,137.3 L229.2,137.78 L229.7,138.26 L230.2,138.5 L230.7,138.65 L231.2,138.79 L231.7,138.93 L232.2,139.08 L232.7,139.22 L233.2,139.3 L233.7,139.36 L234.2,139.41 L234.7,139.47 L235.2,139.53 L235.7,139.59 L236.2,139.64 L236.7,139.7 L237.2,139.74 L237.7,139.74 L238.2,139.75 L238.7,139.75 L239.2,139.76 L239.7,139.77 L240.2,139.77 L240.7,139.78 L241.2,139.78 L241.7,139.79 L242.2,139.79 L242.7,139.8 L243.2,139.8 L243.7,139.81 L244.2,139.81 L244.7,139.82 L245.2,139.82 L245.7,139.83 L246.2,139.84 L246.7,139.84 L247.2,139.84 L247.7,139.84 L248.2,139.84 L248.7,139.84 L249.2,139.84 L249.7,139.84 L250.2,139.84 L250.7,139.84 L251.2,139.84 L251.7,139.84 L252.2,139.84 L252.7,139.84 L253.2,139.84 L253.7,139.84 L254.2,139.84 L254.7,139.84 L255.2,139.84 L255.7,139.84 L256.2,139.84 L256.7,139.84 L257.2,139.84 L257.7,139.84 L258.2,139.84 L258.7,139.95 L259.2,139.95 L259.7,139.95 L260.2,139.95 L260.7,139.95 L261.2,139.95 L261.7,139.95 L262.2,139.95 L262.7,139.95 L263.2,139.95 L263.7,139.95 L264.2,139.95 L264.7,139.95 L265.2,139.95 L265.7,139.95 L266.2,139.95 L266.7,139.95 L267.2,139.95 L267.7,139.95 L268.2,139.95 L268.7,139.95 L269.2,139.95 L269.7,139.95 L270.2,139.95 L270.7,139.95 L271.2,139.95 L271.7,139.95 L272.2,139.95 L272.7,139.95 L273.2,139.95 L273.7,139.95 L274.2,139.95 L274.7,139.95 L275.2,139.95 L275.7,139.95 L276.2,139.95 L276.7,139.95 L277.2,139.95 L277.7,139.95 L278.2,139.95 L278.7,139.95 L279.2,139.95 L279.7,139.95 L280.2,139.95 L280.7,139.95" fill="none" stroke="#ff0000" stroke-width="1.35" stroke-linejoin="round"/>
<path d="M66.4,160.05 L68.4,160.04 L70.4,160.04 L72.4,160.04 L74.4,160.04 L76.4,160.04 L78.4,160.04 L80.4,160.04 L82.4,160.04 L84.4,160.04 L86.4,160.04 L88.4,160.04 L90.4,160.03 L92.4,160.03 L94.4,160.03 L96.4,160.03 L98.4,160.02 L100.4,160.02 L102.4,160.01 L104.4,160 L106.4,159.99 L108.4,159.97 L110.4,159.94 L112.4,159.9 L114.4,159.81 L116.4,159.63 L118.4,159.16 L118.65,159.05 L118.9,158.92 L119.15,158.76 L119.4,158.57 L119.65,158.34 L119.9,158.05 L120.15,157.69 L120.4,157.24 L120.65,156.67 L120.9,155.95 L121.15,155.05 L121.4,153.95 L121.65,152.7 L121.9,151.43 L122.15,150.43 L122.4,150.05 L122.65,150.43 L122.9,151.43 L123.15,152.7 L123.4,153.95 L123.65,155.05 L123.9,155.95 L124.15,156.67 L124.4,157.24 L124.65,157.69 L124.9,158.05 L125.15,158.34 L125.4,158.57 L125.65,158.76 L125.9,158.92 L126.15,159.05 L126.4,159.16 L126.65,159.25 L126.9,159.33 L127.15,159.4 L127.4,159.46 L127.65,159.51 L127.9,159.56 L128.15,159.6 L128.4,159.63 L130.4,159.81 L132.4,159.9 L134.4,159.94 L136.4,159.97 L138.4,159.99 L140.4,160 L142.4,160.01 L144.4,160.02 L146.4,160.02 L148.4,160.03 L150.4,160.03 L152.4,160.03 L154.4,160.03 L156.4,160.04 L158.4,160.04 L160.4,160.04 L162.4,160.04 L164.4,160.04 L166.4,160.04 L168.4,160.04 L170.4,160.04" fill="none" stroke="#000000" stroke-width="1.35" stroke-linejoin="round"/>
<path d="M175.7,160.05 L176.2,160.05 L176.7,160.05 L177.2,160.05 L177.7,160.05 L178.2,160.05 L178.7,160.05 L179.2,160.05 L179.7,160.05 L180.2,160.05 L180.7,160.05 L181.2,160.05 L181.7,160.05 L182.2,160.05 L182.7,160.05 L183.2,160.05 L183.7,160.05 L184.2,160.05 L184.7,160.05 L185.2,160.05 L185.7,160.05 L186.2,160.05 L186.7,160.05 L187.2,160.05 L187.7,160.06 L188.2,159.94 L188.7,159.83 L189.2,159.7 L189.7,159.54 L190.2,159.38 L190.7,159.22 L191.2,159.3 L191.7,159.42 L192.2,159.54 L192.7,159.66 L193.2,159.7 L193.7,159.73 L194.2,159.76 L194.7,159.79 L195.2,159.82 L195.7,159.85 L196.2,159.88 L196.7,159.9 L197.2,159.93 L197.7,159.95 L198.2,159.96 L198.7,159.97 L199.2,159.98 L199.7,159.99 L200.2,160 L200.7,160.01 L201.2,160.03 L201.7,160.04 L202.2,160.05 L202.7,160.06 L203.2,160.07 L203.7,160.08 L204.2,160.09 L204.7,160.1 L205.2,160.11 L205.7,160.12 L206.2,160.13 L206.7,160.14 L207.2,160.16 L207.7,160.08 L208.2,159.98 L208.7,159.88 L209.2,159.78 L209.7,159.69 L210.2,159.59 L210.7,159.43 L211.2,159.07 L211.7,158.7 L212.2,158.34 L212.7,157.43 L213.2,156.52 L213.7,155.24 L214.2,153.94 L214.7,152.29 L215.2,149.42 L215.7,145.94 L216.2,143.36 L216.7,141.69 L217.2,141.29 L217.7,142.6 L218.2,144.35 L218.7,146.54 L219.2,149.49 L219.7,151.71 L220.2,153.64 L220.7,155.47 L221.2,156.69 L221.7,157.7 L222.2,158.5 L222.7,158.93 L223.2,159.32 L223.7,159.45 L224.2,159.58 L224.7,159.7 L225.2,159.83 L225.7,159.89 L226.2,159.9 L226.7,159.91 L227.2,159.92 L227.7,159.93 L228.2,159.94 L228.7,159.95 L229.2,159.96 L229.7,159.97 L230.2,159.98 L230.7,159.99 L231.2,160 L231.7,160.01 L232.2,160.01 L232.7,160.02 L233.2,160.03 L233.7,160.04 L234.2,160.05 L234.7,160.06 L235.2,160.07 L235.7,160.08 L236.2,160.09 L236.7,160.1 L237.2,160.1 L237.7,160.1 L238.2,160.1 L238.7,160.1 L239.2,160.1 L239.7,160.1 L240.2,160.1 L240.7,160.09 L241.2,160.09 L241.7,160.09 L242.2,160.09 L242.7,160.09 L243.2,160.09 L243.7,160.09 L244.2,160.09 L244.7,160.08 L245.2,160.08 L245.7,160.08 L246.2,160.08 L246.7,160.08 L247.2,160.08 L247.7,160.08 L248.2,160.08 L248.7,160.07 L249.2,160.07 L249.7,160.07 L250.2,160.07 L250.7,160.07 L251.2,160.07 L251.7,160.07 L252.2,160.07 L252.7,160.06 L253.2,160.06 L253.7,160.06 L254.2,160.06 L254.7,160.06 L255.2,160.06 L255.7,160.06 L256.2,160.06 L256.7,160.05 L257.2,160.05 L257.7,160.05 L258.2,160.05 L258.7,160.05 L259.2,160.05 L259.7,160.05 L260.2,160.05 L260.7,160.05 L261.2,160.05 L261.7,160.05 L262.2,160.05 L262.7,160.05 L263.2,160.05 L263.7,160.05 L264.2,160.05 L264.7,160.05 L265.2,160.05 L265.7,160.05 L266.2,160.05 L266.7,160.05 L267.2,160.05 L267.7,160.05 L268.2,160.05 L268.7,160.05 L269.2,160.05 L269.7,160.05 L270.2,160.05 L270.7,160.05 L271.2,160.05 L271.7,160.05 L272.2,160.05 L272.7,160.05 L273.2,160.05 L273.7,160.05 L274.2,160.05 L274.7,160.05 L275.2,160.05 L275.7,160.05 L276.2,160.05 L276.7,160.05 L277.2,160.05 L277.7,160.05 L278.2,160.05 L278.7,160.05 L279.2,160.05 L279.7,160.05 L280.2,160.05 L280.7,160.05" fill="none" stroke="#000000" stroke-width="1.35" stroke-linejoin="round"/>
<path d="M171.2,9.5 H65.9 M65.9,9.5 H65.9 V170.3 H171.2 M176.7,9.5 H281.6 V170.3" stroke="#3a3a3a" stroke-width="1" fill="none"/>
<path d="M176.7,170.3 H281.6" stroke="#3a3a3a" stroke-width="1" fill="none"/>
<path d="M170.3,12.8 L174.3,6.2 M173.6,12.8 L177.6,6.2" stroke="#222" stroke-width="0.9"/>
<path d="M170.3,173.6 L174.3,167 M173.6,173.6 L177.6,167" stroke="#222" stroke-width="0.9"/>
<path d="M65.9,170.3 V167.8" stroke="#3a3a3a" stroke-width="0.9"/>
<text x="65.9" y="182.6" font-size="10.3" fill="#1e1e1e" stroke="#1e1e1e" text-anchor="middle">1200</text>
<path d="M111,170.3 V167.8" stroke="#3a3a3a" stroke-width="0.9"/>
<text x="111" y="182.6" font-size="10.3" fill="#1e1e1e" stroke="#1e1e1e" text-anchor="middle">1500</text>
<path d="M156.6,170.3 V167.8" stroke="#3a3a3a" stroke-width="0.9"/>
<text x="156.6" y="182.6" font-size="10.3" fill="#1e1e1e" stroke="#1e1e1e" text-anchor="middle">1800</text>
<path d="M187.3,170.3 V167.8" stroke="#3a3a3a" stroke-width="0.9"/>
<text x="187.3" y="182.6" font-size="10.3" fill="#1e1e1e" stroke="#1e1e1e" text-anchor="middle">2400</text>
<path d="M222.8,170.3 V167.8" stroke="#3a3a3a" stroke-width="0.9"/>
<text x="222.8" y="182.6" font-size="10.3" fill="#1e1e1e" stroke="#1e1e1e" text-anchor="middle">2700</text>
<path d="M258.3,170.3 V167.8" stroke="#3a3a3a" stroke-width="0.9"/>
<text x="258.3" y="182.6" font-size="10.3" fill="#1e1e1e" stroke="#1e1e1e" text-anchor="middle">3000</text>
<path d="M65.9,19.8 h1.2 M281.6,19.8 h-1 M65.9,30.1 h1.2 M281.6,30.1 h-1 M65.9,40.4 h1.2 M281.6,40.4 h-1 M65.9,50.7 h1.2 M281.6,50.7 h-1 M65.9,61 h1.2 M281.6,61 h-1 M65.9,71.3 h1.2 M281.6,71.3 h-1 M65.9,81.6 h1.2 M281.6,81.6 h-1 M65.9,91.9 h1.2 M281.6,91.9 h-1 M65.9,102.2 h1.2 M281.6,102.2 h-1 M65.9,112.5 h1.2 M281.6,112.5 h-1 M65.9,122.8 h1.2 M281.6,122.8 h-1 M65.9,133.1 h1.2 M281.6,133.1 h-1 M65.9,143.4 h1.2 M281.6,143.4 h-1 M65.9,153.7 h1.2 M281.6,153.7 h-1 M65.9,164 h1.2 M281.6,164 h-1 " stroke="#3a3a3a" stroke-width="0.7"/>
<g fill="#5a1aa6"><circle cx="243.7" cy="9.2" r="1.1"/><circle cx="239.4" cy="9.2" r="1.1"/><circle cx="235.1" cy="9.2" r="1.1"/><circle cx="230.8" cy="9.2" r="1.1"/><circle cx="226.5" cy="9.2" r="1.1"/><circle cx="222.2" cy="9.2" r="1.1"/><circle cx="217.9" cy="9.2" r="1.1"/><circle cx="213.6" cy="9.2" r="1.1"/><circle cx="209.3" cy="9.2" r="1.1"/><circle cx="205" cy="9.2" r="1.1"/><circle cx="245.5" cy="171.6" r="1.1"/><circle cx="203.8" cy="171.6" r="1.1"/><circle cx="245.5" cy="167.27" r="1.1"/><circle cx="203.8" cy="167.27" r="1.1"/><circle cx="245.5" cy="162.94" r="1.1"/><circle cx="203.8" cy="162.94" r="1.1"/><circle cx="245.5" cy="158.61" r="1.1"/><circle cx="203.8" cy="158.61" r="1.1"/><circle cx="245.5" cy="154.28" r="1.1"/><circle cx="203.8" cy="154.28" r="1.1"/><circle cx="245.5" cy="149.95" r="1.1"/><circle cx="203.8" cy="149.95" r="1.1"/><circle cx="245.5" cy="145.62" r="1.1"/><circle cx="203.8" cy="145.62" r="1.1"/><circle cx="245.5" cy="141.29" r="1.1"/><circle cx="203.8" cy="141.29" r="1.1"/><circle cx="245.5" cy="136.96" r="1.1"/><circle cx="203.8" cy="136.96" r="1.1"/><circle cx="245.5" cy="132.63" r="1.1"/><circle cx="203.8" cy="132.63" r="1.1"/><circle cx="245.5" cy="128.3" r="1.1"/><circle cx="203.8" cy="128.3" r="1.1"/><circle cx="245.5" cy="123.97" r="1.1"/><circle cx="203.8" cy="123.97" r="1.1"/><circle cx="245.5" cy="119.64" r="1.1"/><circle cx="203.8" cy="119.64" r="1.1"/><circle cx="245.5" cy="115.31" r="1.1"/><circle cx="203.8" cy="115.31" r="1.1"/><circle cx="245.5" cy="110.98" r="1.1"/><circle cx="203.8" cy="110.98" r="1.1"/><circle cx="245.5" cy="106.65" r="1.1"/><circle cx="203.8" cy="106.65" r="1.1"/><circle cx="245.5" cy="102.32" r="1.1"/><circle cx="203.8" cy="102.32" r="1.1"/><circle cx="245.5" cy="97.99" r="1.1"/><circle cx="203.8" cy="97.99" r="1.1"/><circle cx="245.5" cy="93.66" r="1.1"/><circle cx="203.8" cy="93.66" r="1.1"/><circle cx="245.5" cy="89.33" r="1.1"/><circle cx="203.8" cy="89.33" r="1.1"/><circle cx="245.5" cy="85" r="1.1"/><circle cx="203.8" cy="85" r="1.1"/><circle cx="245.5" cy="80.67" r="1.1"/><circle cx="203.8" cy="80.67" r="1.1"/><circle cx="245.5" cy="76.34" r="1.1"/><circle cx="203.8" cy="76.34" r="1.1"/><circle cx="245.5" cy="72.01" r="1.1"/><circle cx="203.8" cy="72.01" r="1.1"/><circle cx="245.5" cy="67.68" r="1.1"/><circle cx="203.8" cy="67.68" r="1.1"/><circle cx="245.5" cy="63.35" r="1.1"/><circle cx="203.8" cy="63.35" r="1.1"/><circle cx="245.5" cy="59.02" r="1.1"/><circle cx="203.8" cy="59.02" r="1.1"/><circle cx="245.5" cy="54.69" r="1.1"/><circle cx="203.8" cy="54.69" r="1.1"/><circle cx="245.5" cy="50.36" r="1.1"/><circle cx="203.8" cy="50.36" r="1.1"/><circle cx="245.5" cy="46.03" r="1.1"/><circle cx="203.8" cy="46.03" r="1.1"/><circle cx="245.5" cy="41.7" r="1.1"/><circle cx="203.8" cy="41.7" r="1.1"/><circle cx="245.5" cy="37.37" r="1.1"/><circle cx="203.8" cy="37.37" r="1.1"/><circle cx="245.5" cy="33.04" r="1.1"/><circle cx="203.8" cy="33.04" r="1.1"/><circle cx="245.5" cy="28.71" r="1.1"/><circle cx="203.8" cy="28.71" r="1.1"/><circle cx="245.5" cy="24.38" r="1.1"/><circle cx="203.8" cy="24.38" r="1.1"/><circle cx="245.5" cy="20.05" r="1.1"/><circle cx="203.8" cy="20.05" r="1.1"/><circle cx="245.5" cy="15.72" r="1.1"/><circle cx="203.8" cy="15.72" r="1.1"/><circle cx="245.5" cy="11.39" r="1.1"/><circle cx="203.8" cy="11.39" r="1.1"/><circle cx="203.6" cy="171.6" r="1.1"/><circle cx="207.79" cy="171.6" r="1.1"/><circle cx="211.98" cy="171.6" r="1.1"/><circle cx="216.17" cy="171.6" r="1.1"/><circle cx="220.36" cy="171.6" r="1.1"/><circle cx="224.55" cy="171.6" r="1.1"/><circle cx="228.74" cy="171.6" r="1.1"/><circle cx="232.93" cy="171.6" r="1.1"/><circle cx="237.12" cy="171.6" r="1.1"/><circle cx="241.31" cy="171.6" r="1.1"/><circle cx="245.5" cy="171.6" r="1.1"/></g>
<text x="112" y="22.2" font-size="10.3" fill="#1e1e1e" stroke="#1e1e1e">G</text>
<text x="79.7" y="35.5" font-size="10.3" fill="#1e1e1e" stroke="#1e1e1e">D</text>
<text x="206" y="26.9" font-size="10.3" fill="#1e1e1e" stroke="#1e1e1e">2D</text>
<text class="c" x="154.7" y="34.3" font-size="10.3" fill="#858515" stroke="#858515">7 layer</text>
<text class="c" x="154.7" y="54.35" font-size="10.3" fill="#f010f0" stroke="#f010f0">6 layer</text>
<text class="c" x="154.7" y="74.4" font-size="10.3" fill="#10e8f0" stroke="#10e8f0">5 layer</text>
<text class="c" x="154.7" y="94.45" font-size="10.3" fill="#1515d0" stroke="#1515d0">4 layer</text>
<text class="c" x="154.7" y="114.5" font-size="10.3" fill="#20e020" stroke="#20e020">3 layer</text>
<text class="c" x="154.7" y="134.55" font-size="10.3" fill="#f01818" stroke="#f01818">2 layer</text>
<text x="154.7" y="154.6" font-size="10.3" fill="#111111" stroke="#111111">1 layer</text>
<text x="121.4" y="202" font-size="12.7" fill="#1e1e1e" stroke="#1e1e1e">Raman shift (cm<tspan font-size="5.5" dy="-4.6">-1</tspan><tspan dy="4.6">)</tspan></text>
<text transform="translate(52.9,87.5) rotate(-90)" font-size="13.0" fill="#1e1e1e" stroke="#1e1e1e" text-anchor="middle">Intensity (a.u.)</text>
<path d="M319.01,168.47 L320.99,168.19 M319.91,168.34 L321.89,168.07 M320.81,168.22 L322.79,167.94 M321.71,168.1 L323.69,167.81 M322.61,167.97 L324.59,167.67 M323.51,167.84 L325.49,167.52 M324.42,167.73 L326.38,167.32 M325.33,167.56 L327.27,167.06 M326.23,167.33 L328.17,166.8 M327.12,167.06 L329.08,166.62 M328.01,166.81 L329.99,166.54 M328.9,166.62 L330.9,166.58 M329.81,166.53 L331.79,166.75 M330.72,166.58 L332.68,167 M331.63,166.77 L333.57,167.22 M332.52,167 L334.48,167.37 M333.41,167.19 L335.39,167.47 M334.3,167.34 L336.3,167.54 M335.2,167.45 L337.2,167.58 M336.1,167.51 L338.1,167.63 M337,167.57 L339,167.68 M337.9,167.62 L339.9,167.72 M338.8,167.67 L340.8,167.76 M339.7,167.71 L341.7,167.79 M340.6,167.75 L342.6,167.82 M341.5,167.78 L343.5,167.85 M342.4,167.81 L344.4,167.87 M343.3,167.84 L345.3,167.9 M344.2,167.87 L346.2,167.92 M345.1,167.89 L347.1,167.94 M346,167.91 L348,167.96 M346.9,167.93 L348.9,167.98 M347.8,167.95 L349.8,168 M348.7,167.97 L350.7,168.01 M349.6,167.99 L351.6,168.03 M350.5,168.01 L352.5,168.05 M351.4,168.03 L353.4,168.07 M352.3,168.05 L354.3,168.09 M353.2,168.07 L355.2,168.11 M354.1,168.09 L356.1,168.13 M355,168.11 L357,168.15 M355.9,168.12 L357.9,168.17 M356.8,168.14 L358.8,168.18 M357.7,168.16 L359.7,168.2 M358.6,168.18 L360.6,168.22 M359.5,168.2 L361.5,168.24 M360.4,168.22 L362.4,168.26 M361.3,168.23 L363.3,168.27 M362.2,168.25 L364.2,168.29 M363.1,168.27 L365.1,168.3 M364,168.28 L366,168.32 M364.9,168.3 L366.9,168.33 M365.8,168.32 L367.8,168.35 M366.7,168.33 L368.7,168.36 M367.6,168.34 L369.6,168.37 M368.5,168.36 L370.5,168.38 M369.4,168.37 L371.4,168.4 M370.3,168.38 L372.3,168.4 M371.2,168.39 L373.2,168.41 M372.1,168.4 L374.1,168.42 M373,168.41 L375,168.43 M373.9,168.42 L375.9,168.43 M374.8,168.42 L376.8,168.43 M375.7,168.43 L377.7,168.43 M376.6,168.43 L378.6,168.42 M377.5,168.43 L379.5,168.41 M378.4,168.43 L380.4,168.39 M379.3,168.42 L381.3,168.37 M380.2,168.4 L382.2,168.34 M381.1,168.38 L383.1,168.3 M382,168.35 L384,168.25 M382.9,168.31 L384.9,168.18 M383.8,168.26 L385.8,168.09 M384.71,168.2 L386.69,167.96 M385.61,168.11 L387.59,167.8 M386.52,168 L388.48,167.59 M387.43,167.83 L389.37,167.35 M388.33,167.61 L390.27,167.13 M389.23,167.39 L391.17,166.92 M390.14,167.2 L392.06,166.63 M391.06,166.97 L392.94,166.27 M392,166.67 L393.8,165.8 M392.95,166.26 L394.65,165.22 M393.88,165.72 L395.52,164.57 M394.86,165.11 L396.34,163.77 M395.86,164.27 L397.14,162.74 M396.81,163.14 L397.99,161.52 M397.73,161.9 L398.87,160.26 M398.66,160.56 L399.74,158.88 M399.58,159.12 L400.62,157.41 M400.51,157.6 L401.49,155.86 M401.36,156.06 L402.44,154.37 M402.5,154.13 L403.1,152.22 M403.48,150.66 L403.92,148.71 M404.38,146.62 L404.82,144.66 M405.26,142.66 L405.74,140.72 M406.1,139.38 L406.7,137.47 M406.91,136.88 L407.69,135.04 M407.77,134.83 L408.63,133.03 M408.36,133.16 L409.84,131.82 M409.35,131.85 L410.65,133.38 M410.48,133.35 L411.32,135.16 M411.33,135.18 L412.27,136.95 M412.26,136.9 L413.14,138.69 M413.23,138.89 L413.97,140.75 M414.23,141.57 L414.77,143.5 M415.16,145.05 L415.64,146.99 M416.01,148.41 L416.59,150.33 M416.83,150.97 L417.57,152.83 M417.69,153.07 L418.51,154.89 M418.6,155.05 L419.4,156.89 M419.54,157.3 L420.26,159.16 M420.3,159.3 L421.3,161.03 M421.13,160.73 L422.27,162.37 M421.99,161.98 L423.21,163.56 M422.84,163.11 L424.16,164.62 M423.68,164.12 L425.12,165.5 M424.51,164.98 L426.09,166.21 M425.31,165.72 L427.09,166.61 M426.15,166.21 L428.05,166.85 M427.04,166.52 L428.96,167.08 M428.03,166.7 L429.77,167.68 M428.82,167.32 L430.78,167.72 M429.71,167.54 L431.69,167.76 M430.6,167.66 L432.6,167.81 M431.5,167.73 L433.5,167.85 M432.4,167.79 L434.4,167.89 M433.3,167.84 L435.3,167.92 M434.2,167.88 L436.2,167.94 M435.1,167.91 L437.1,167.97 M436,167.94 L438,168 M436.9,167.97 L438.9,168.02 M437.8,167.99 L439.8,168.04 M438.7,168.01 L440.7,168.06 M439.6,168.03 L441.6,168.07 M440.5,168.05 L442.5,168.09 M441.4,168.07 L443.4,168.1 M442.3,168.09 L444.3,168.12 M443.2,168.1 L445.2,168.13 M444.1,168.11 L446.1,168.14 M445,168.13 L447,168.15 M445.9,168.14 L447.9,168.16 M446.8,168.15 L448.8,168.17 M447.7,168.16 L449.7,168.18 M448.6,168.17 L450.6,168.19 M449.5,168.18 L451.5,168.2 M450.4,168.19 L452.4,168.21 M451.3,168.2 L453.3,168.22 M452.2,168.21 L454.2,168.22 M453.1,168.22 L455.1,168.23 M454,168.22 L456,168.24 M454.9,168.23 L456.9,168.24 M455.8,168.24 L457.8,168.25 M456.7,168.24 L458.7,168.25 M457.6,168.25 L459.6,168.26 M458.5,168.25 L460.5,168.26 M459.4,168.26 L461.4,168.27 M460.3,168.26 L462.3,168.27 M461.2,168.27 L463.2,168.28 M462.1,168.27 L464.1,168.28 M463,168.27 L465,168.28 M463.9,168.28 L465.9,168.29 M464.8,168.28 L466.8,168.29 M465.7,168.29 L467.7,168.29 M466.6,168.29 L468.6,168.3 M467.5,168.29 L469.5,168.3 M468.4,168.29 L470.4,168.3 M469.3,168.3 L471.3,168.3 M470.2,168.3 L472.2,168.31 M471.1,168.3 L473.1,168.31 M472,168.3 L474,168.31 M472.9,168.31 L474.9,168.31 M473.8,168.31 L475.8,168.31 M474.7,168.31 L476.7,168.31 M475.6,168.31 L477.6,168.31 M476.5,168.31 L478.5,168.31 M477.4,168.31 L479.4,168.31 M478.3,168.31 L480.3,168.31 M479.2,168.31 L481.2,168.31 M480.1,168.31 L482.1,168.31 M481,168.31 L483,168.31 M481.9,168.31 L483.9,168.31 M482.8,168.31 L484.8,168.31 M483.7,168.31 L485.7,168.31 M484.6,168.31 L486.6,168.31 M485.5,168.31 L487.5,168.31 M486.4,168.31 L488.4,168.3 M487.3,168.31 L489.3,168.3 M488.2,168.31 L490.2,168.3 M489.1,168.3 L491.1,168.3 M490,168.3 L492,168.3 M490.9,168.3 L492.9,168.3 M491.8,168.3 L493.8,168.3 M492.7,168.3 L494.7,168.3 M493.6,168.3 L495.6,168.29 M494.5,168.3 L496.5,168.29 M495.4,168.29 L497.4,168.29 M496.3,168.29 L498.3,168.29 M497.2,168.29 L499.2,168.29 M498.1,168.29 L500.1,168.28 M499,168.29 L501,168.28 M499.9,168.29 L501.9,168.28 M500.8,168.28 L502.8,168.28 M501.7,168.28 L503.7,168.28 M502.6,168.28 L504.6,168.28 M503.5,168.28 L505.5,168.27 M504.4,168.28 L506.4,168.27 M505.3,168.27 L507.3,168.27 M506.2,168.27 L508.2,168.27 M507.1,168.27 L509.1,168.26 M508,168.27 L510,168.26 M508.9,168.26 L510.9,168.26 M509.8,168.26 L511.8,168.26 M510.7,168.26 L512.7,168.26 M511.6,168.26 L513.6,168.25 M512.5,168.26 L514.5,168.25 M513.4,168.25 L515.4,168.25 M514.3,168.25 L516.3,168.25 M515.2,168.25 L517.2,168.24 M516.1,168.25 L518.1,168.24 M517,168.24 L519,168.24 M517.9,168.24 L519.9,168.24 M518.8,168.24 L520.8,168.23 M519.7,168.24 L521.7,168.23 M520.6,168.23 L522.6,168.23 M521.5,168.23 L523.5,168.23 M522.4,168.23 L524.4,168.22 M523.3,168.23 L525.3,168.22 M524.2,168.23 L526.2,168.22 M525.1,168.22 L527.1,168.22 M526,168.22 L528,168.22 M526.9,168.22 L528.9,168.21 M527.8,168.22 L529.8,168.21 M528.7,168.21 L530.7,168.21 M529.6,168.21 L531.6,168.21 M530.5,168.21 L532.5,168.2 M531.4,168.21 L533.4,168.2 M532.3,168.2 L534.3,168.2 M533.2,168.2 L535.2,168.2 " fill="none" stroke="#111" stroke-width="1.55" stroke-linecap="butt"/>
<path d="M319.5,148 C321.25,147.92 326.58,147.8 330,147.5 C333.42,147.2 335.83,146.28 340,146.2 C344.17,146.12 348.33,146.77 355,147 C361.67,147.23 373.83,147.67 380,147.6 C386.17,147.53 388.67,146.87 392,146.6 C395.33,146.33 397.6,146.53 400,146 C402.4,145.47 404.28,144.67 406.4,143.4 C408.52,142.13 411.02,140.08 412.7,138.4 C414.38,136.72 415.33,135.43 416.5,133.3 C417.67,131.17 418.73,128.15 419.7,125.6 C420.67,123.05 421.55,119.92 422.3,118 C423.05,116.08 423.03,115.28 424.2,114.1 C425.37,112.92 427.93,111.12 429.3,110.9 C430.67,110.68 431.55,111.62 432.4,112.8 C433.25,113.98 433.55,115.87 434.4,118 C435.25,120.13 436.45,122.63 437.5,125.6 C438.55,128.57 439.63,133.15 440.7,135.8 C441.77,138.45 442.63,140.12 443.9,141.5 C445.17,142.88 446.07,143.4 448.3,144.1 C450.53,144.8 453.68,145.28 457.3,145.7 C460.92,146.12 462.88,146.42 470,146.6 C477.12,146.78 489.18,146.77 500,146.8 C510.82,146.83 529.08,146.8 534.9,146.8" fill="none" stroke="#ff0000" stroke-width="1.45" stroke-linejoin="round"/>
<path d="M319.5,125.5 C321.25,125.42 326.58,125.28 330,125 C333.42,124.72 335.83,123.88 340,123.8 C344.17,123.72 348.33,124.4 355,124.5 C361.67,124.6 373.83,124.57 380,124.4 C386.17,124.23 388.67,123.78 392,123.5 C395.33,123.22 397.4,123.22 400,122.7 C402.6,122.18 405.27,121.62 407.6,120.4 C409.93,119.18 412.3,117.3 414,115.4 C415.7,113.5 416.63,111.33 417.8,109 C418.97,106.67 420.05,104.6 421,101.4 C421.95,98.2 422.65,92.05 423.5,89.8 C424.35,87.55 424.93,88 426.1,87.9 C427.27,87.8 429.33,88.78 430.5,89.2 C431.67,89.62 432.25,89.35 433.1,90.4 C433.95,91.45 434.55,93.47 435.6,95.5 C436.65,97.53 438.12,99.93 439.4,102.6 C440.68,105.27 442.02,108.85 443.3,111.5 C444.58,114.15 445.42,116.8 447.1,118.5 C448.78,120.2 451.08,120.95 453.4,121.7 C455.72,122.45 458.23,122.62 461,123 C463.77,123.38 463.5,123.8 470,124 C476.5,124.2 489.18,124.15 500,124.2 C510.82,124.25 529.08,124.28 534.9,124.3" fill="none" stroke="#00ff00" stroke-width="1.45" stroke-linejoin="round"/>
<path d="M319.5,102.2 C322.92,102.08 333.25,101.48 340,101.5 C346.75,101.52 353.33,102.15 360,102.3 C366.67,102.45 374.67,102.53 380,102.4 C385.33,102.27 388.67,101.73 392,101.5 C395.33,101.27 397.4,101.47 400,101 C402.6,100.53 405.48,99.4 407.6,98.7 C409.72,98 411,98.07 412.7,96.8 C414.4,95.53 416.1,93.32 417.8,91.1 C419.5,88.88 421.3,85.62 422.9,83.5 C424.5,81.38 426.02,79.43 427.4,78.4 C428.78,77.37 429.93,77.42 431.2,77.3 C432.47,77.18 433.95,77.2 435,77.7 C436.05,78.2 436.45,78.5 437.5,80.3 C438.55,82.1 440.02,86.07 441.3,88.5 C442.58,90.93 443.82,93.2 445.2,94.9 C446.58,96.6 447.8,97.75 449.6,98.7 C451.4,99.65 453.67,100.07 456,100.6 C458.33,101.13 461.27,101.68 463.6,101.9 C465.93,102.12 463.93,101.88 470,101.9 C476.07,101.92 489.18,102.02 500,102 C510.82,101.98 529.08,101.83 534.9,101.8" fill="none" stroke="#0000ff" stroke-width="1.45" stroke-linejoin="round"/>
<path d="M319.5,80 C322.92,79.83 333.25,79.07 340,79 C346.75,78.93 353.33,79.43 360,79.6 C366.67,79.77 374.67,80.02 380,80 C385.33,79.98 388.67,79.62 392,79.5 C395.33,79.38 397.4,79.65 400,79.3 C402.6,78.95 405.27,78.37 407.6,77.4 C409.93,76.43 412.08,75.32 414,73.5 C415.92,71.68 417.4,68.62 419.1,66.5 C420.8,64.38 422.3,62.38 424.2,60.8 C426.1,59.22 428.7,58.05 430.5,57 C432.3,55.95 433.83,54.6 435,54.5 C436.17,54.4 436.33,54.5 437.5,56.4 C438.67,58.3 440.4,62.93 442,65.9 C443.6,68.87 445.4,72.15 447.1,74.2 C448.8,76.25 449.88,77.32 452.2,78.2 C454.52,79.08 458.03,79.15 461,79.5 C463.97,79.85 463.5,80.22 470,80.3 C476.5,80.38 489.18,80.12 500,80 C510.82,79.88 529.08,79.67 534.9,79.6" fill="none" stroke="#00ffff" stroke-width="1.45" stroke-linejoin="round"/>
<path d="M319.5,57 C321.25,56.92 326.25,56.7 330,56.5 C333.75,56.3 337.83,55.78 342,55.8 C346.17,55.82 348.67,56.33 355,56.6 C361.33,56.87 373.83,57.42 380,57.4 C386.17,57.38 388.67,56.83 392,56.5 C395.33,56.17 397.6,55.8 400,55.4 C402.4,55 404.28,54.85 406.4,54.1 C408.52,53.35 410.58,52.5 412.7,50.9 C414.82,49.3 417.18,46.4 419.1,44.5 C421.02,42.6 422.3,41.08 424.2,39.5 C426.1,37.92 428.8,36.22 430.5,35 C432.2,33.78 433.33,32.52 434.4,32.2 C435.47,31.88 436.07,32.1 436.9,33.1 C437.73,34.1 438.33,36.08 439.4,38.2 C440.47,40.32 442.02,43.58 443.3,45.8 C444.58,48.02 445.62,50.02 447.1,51.5 C448.58,52.98 449.88,53.95 452.2,54.7 C454.52,55.45 458.03,55.68 461,56 C463.97,56.32 463.5,56.43 470,56.6 C476.5,56.77 489.18,56.92 500,57 C510.82,57.08 529.08,57.08 534.9,57.1" fill="none" stroke="#ff00ff" stroke-width="1.45" stroke-linejoin="round"/>
<path d="M319.5,35.5 C321.25,35.42 326.58,35.27 330,35 C333.42,34.73 336.67,33.97 340,33.9 C343.33,33.83 345.83,34.42 350,34.6 C354.17,34.78 360,34.93 365,35 C370,35.07 375.5,35.08 380,35 C384.5,34.92 388.67,34.73 392,34.5 C395.33,34.27 397.4,34.02 400,33.6 C402.6,33.18 405.27,32.73 407.6,32 C409.93,31.27 412.1,30.3 414,29.2 C415.9,28.1 417.52,27 419,25.4 C420.48,23.8 421.83,20.88 422.9,19.6 C423.97,18.32 424.13,18.33 425.4,17.7 C426.67,17.07 429.23,16.33 430.5,15.8 C431.77,15.27 432.03,15 433,14.5 C433.97,14 435.43,12.9 436.3,12.8 C437.17,12.7 437.25,12.45 438.2,13.9 C439.15,15.35 440.63,19.07 442,21.5 C443.37,23.93 445.13,26.8 446.4,28.5 C447.67,30.2 448.22,30.92 449.6,31.7 C450.98,32.48 452.37,32.73 454.7,33.2 C457.03,33.67 461.05,34.22 463.6,34.5 C466.15,34.78 463.93,34.82 470,34.9 C476.07,34.98 489.18,34.98 500,35 C510.82,35.02 529.08,35 534.9,35" fill="none" stroke="#808000" stroke-width="1.45" stroke-linejoin="round"/>
<rect x="319.5" y="9.4" width="215.4" height="159.9" stroke="#3a3a3a" stroke-width="1" fill="none"/>
<path d="M319.5,169.3 v-2.6 M337.45,169.3 v-1.5 M355.4,169.3 v-2.6 M373.35,169.3 v-1.5 M391.3,169.3 v-2.6 M409.25,169.3 v-1.5 M427.2,169.3 v-2.6 M445.15,169.3 v-1.5 M463.1,169.3 v-2.6 M481.05,169.3 v-1.5 M499,169.3 v-2.6 M516.95,169.3 v-1.5 M534.9,169.3 v-2.6 M319.5,19.7 h1.2 M534.9,19.7 h-1 M319.5,30 h1.2 M534.9,30 h-1 M319.5,40.3 h1.2 M534.9,40.3 h-1 M319.5,50.6 h1.2 M534.9,50.6 h-1 M319.5,60.9 h1.2 M534.9,60.9 h-1 M319.5,71.2 h1.2 M534.9,71.2 h-1 M319.5,81.5 h1.2 M534.9,81.5 h-1 M319.5,91.8 h1.2 M534.9,91.8 h-1 M319.5,102.1 h1.2 M534.9,102.1 h-1 M319.5,112.4 h1.2 M534.9,112.4 h-1 M319.5,122.7 h1.2 M534.9,122.7 h-1 M319.5,133 h1.2 M534.9,133 h-1 M319.5,143.3 h1.2 M534.9,143.3 h-1 M319.5,153.6 h1.2 M534.9,153.6 h-1 M319.5,163.9 h1.2 M534.9,163.9 h-1 " stroke="#3a3a3a" stroke-width="0.8"/>
<text x="319.5" y="182" font-size="10.3" fill="#1e1e1e" stroke="#1e1e1e" text-anchor="middle">2400</text>
<text x="355.4" y="182" font-size="10.3" fill="#1e1e1e" stroke="#1e1e1e" text-anchor="middle">2500</text>
<text x="391.3" y="182" font-size="10.3" fill="#1e1e1e" stroke="#1e1e1e" text-anchor="middle">2600</text>
<text x="427.2" y="182" font-size="10.3" fill="#1e1e1e" stroke="#1e1e1e" text-anchor="middle">2700</text>
<text x="463.1" y="182" font-size="10.3" fill="#1e1e1e" stroke="#1e1e1e" text-anchor="middle">2800</text>
<text x="499" y="182" font-size="10.3" fill="#1e1e1e" stroke="#1e1e1e" text-anchor="middle">2900</text>
<text x="534.9" y="182" font-size="10.3" fill="#1e1e1e" stroke="#1e1e1e" text-anchor="middle">3000</text>
<text class="c" x="532.6" y="31.6" font-size="10.3" fill="#858515" stroke="#858515" text-anchor="end">7 layer</text>
<text class="c" x="532.6" y="53.75" font-size="10.3" fill="#f010f0" stroke="#f010f0" text-anchor="end">6 layer</text>
<text class="c" x="532.6" y="75.9" font-size="10.3" fill="#10e8f0" stroke="#10e8f0" text-anchor="end">5 layer</text>
<text class="c" x="532.6" y="98.05" font-size="10.3" fill="#1515d0" stroke="#1515d0" text-anchor="end">4 layer</text>
<text class="c" x="532.6" y="120.2" font-size="10.3" fill="#20e020" stroke="#20e020" text-anchor="end">3 layer</text>
<text class="c" x="532.6" y="142.35" font-size="10.3" fill="#f01818" stroke="#f01818" text-anchor="end">2 layer</text>
<text x="532.6" y="164.5" font-size="10.3" fill="#111111" stroke="#111111" text-anchor="end">1 layer</text>
<text x="377.3" y="201.2" font-size="12.7" fill="#1e1e1e" stroke="#1e1e1e">Raman shift (cm<tspan font-size="5.5" dy="-4.6">-1</tspan><tspan dy="4.6">)</tspan></text>
<text transform="translate(306.1,91.6) rotate(-90)" font-size="13.15" fill="#1e1e1e" stroke="#1e1e1e" text-anchor="middle">Intensity (a.u.)</text>
<g fill="none" stroke="#1e1e1e" stroke-width="1.0">
<ellipse cx="104.2" cy="351.35" rx="3.2" ry="2.9"/>
<ellipse cx="104.2" cy="349.95" rx="3.2" ry="2.9"/>
<ellipse cx="104.2" cy="348.56" rx="3.2" ry="2.9"/>
<ellipse cx="104.2" cy="347.16" rx="3.2" ry="2.9"/>
<ellipse cx="104.2" cy="345.76" rx="3.2" ry="2.9"/>
<ellipse cx="104.2" cy="344.37" rx="3.2" ry="2.9"/>
<ellipse cx="104.2" cy="341.57" rx="3.2" ry="2.9"/>
<ellipse cx="104.2" cy="340.18" rx="3.2" ry="2.9"/>
<ellipse cx="130.2" cy="324.81" rx="3.2" ry="2.9"/>
<ellipse cx="130.2" cy="323.41" rx="3.2" ry="2.9"/>
<ellipse cx="130.2" cy="322.01" rx="3.2" ry="2.9"/>
<ellipse cx="130.2" cy="320.62" rx="3.2" ry="2.9"/>
<ellipse cx="130.2" cy="319.22" rx="3.2" ry="2.9"/>
<ellipse cx="130.2" cy="317.82" rx="3.2" ry="2.9"/>
<ellipse cx="156.2" cy="306.65" rx="3.2" ry="2.9"/>
<ellipse cx="156.2" cy="305.25" rx="3.2" ry="2.9"/>
<ellipse cx="156.2" cy="302.46" rx="3.2" ry="2.9"/>
<ellipse cx="156.2" cy="301.06" rx="3.2" ry="2.9"/>
<ellipse cx="156.2" cy="293.52" rx="3.2" ry="2.9"/>
<ellipse cx="156.2" cy="291" rx="3.2" ry="2.9"/>
<ellipse cx="156.2" cy="288.49" rx="3.2" ry="2.9"/>
<ellipse cx="156.2" cy="285.55" rx="3.2" ry="2.9"/>
<ellipse cx="182.2" cy="288.07" rx="3.2" ry="2.9"/>
<ellipse cx="182.2" cy="287.37" rx="3.2" ry="2.9"/>
<ellipse cx="182.2" cy="286.53" rx="3.2" ry="2.9"/>
<ellipse cx="182.2" cy="285.69" rx="3.2" ry="2.9"/>
<ellipse cx="182.2" cy="284.99" rx="3.2" ry="2.9"/>
<ellipse cx="182.2" cy="283.6" rx="3.2" ry="2.9"/>
<ellipse cx="182.2" cy="280.8" rx="3.2" ry="2.9"/>
<ellipse cx="182.2" cy="278.57" rx="3.2" ry="2.9"/>
<ellipse cx="208.2" cy="271.72" rx="3.2" ry="2.9"/>
<ellipse cx="208.2" cy="268.93" rx="3.2" ry="2.9"/>
<ellipse cx="208.2" cy="266.13" rx="3.2" ry="2.9"/>
<ellipse cx="208.2" cy="264.74" rx="3.2" ry="2.9"/>
<ellipse cx="208.2" cy="263.34" rx="3.2" ry="2.9"/>
<ellipse cx="208.2" cy="261.94" rx="3.2" ry="2.9"/>
<ellipse cx="208.2" cy="260.55" rx="3.2" ry="2.9"/>
<ellipse cx="208.2" cy="259.15" rx="3.2" ry="2.9"/>
<ellipse cx="208.2" cy="257.75" rx="3.2" ry="2.9"/>
<ellipse cx="208.2" cy="255.38" rx="3.2" ry="2.9"/>
<ellipse cx="234.2" cy="258.45" rx="3.2" ry="2.9"/>
<ellipse cx="234.2" cy="252.16" rx="3.2" ry="2.9"/>
<ellipse cx="260.2" cy="248.53" rx="3.2" ry="2.9"/>
<ellipse cx="260.2" cy="245.18" rx="3.2" ry="2.9"/>
<ellipse cx="260.2" cy="243.78" rx="3.2" ry="2.9"/>
<ellipse cx="260.2" cy="242.39" rx="3.2" ry="2.9"/>
<ellipse cx="260.2" cy="240.99" rx="3.2" ry="2.9"/>
<ellipse cx="260.2" cy="239.59" rx="3.2" ry="2.9"/>
<ellipse cx="260.2" cy="235.4" rx="3.2" ry="2.9"/>
</g>
<path d="M80.8,373.67 L82.1,372.06 L83.4,370.47 L84.7,368.9 L86,367.33 L87.3,365.78 L88.6,364.25 L89.9,362.72 L91.2,361.21 L92.5,359.71 L93.8,358.22 L95.1,356.75 L96.4,355.29 L97.7,353.84 L99,352.4 L100.3,350.97 L101.6,349.56 L102.9,348.16 L104.2,346.77 L105.5,345.39 L106.8,344.02 L108.1,342.67 L109.4,341.32 L110.7,339.99 L112,338.67 L113.3,337.36 L114.6,336.06 L115.9,334.77 L117.2,333.49 L118.5,332.22 L119.8,330.96 L121.1,329.72 L122.4,328.48 L123.7,327.26 L125,326.04 L126.3,324.83 L127.6,323.64 L128.9,322.45 L130.2,321.28 L131.5,320.11 L132.8,318.96 L134.1,317.81 L135.4,316.68 L136.7,315.55 L138,314.43 L139.3,313.32 L140.6,312.22 L141.9,311.13 L143.2,310.05 L144.5,308.98 L145.8,307.92 L147.1,306.87 L148.4,305.82 L149.7,304.79 L151,303.76 L152.3,302.74 L153.6,301.73 L154.9,300.73 L156.2,299.73 L157.5,298.75 L158.8,297.77 L160.1,296.8 L161.4,295.84 L162.7,294.89 L164,293.94 L165.3,293.01 L166.6,292.08 L167.9,291.16 L169.2,290.24 L170.5,289.34 L171.8,288.44 L173.1,287.55 L174.4,286.67 L175.7,285.79 L177,284.92 L178.3,284.06 L179.6,283.21 L180.9,282.36 L182.2,281.52 L183.5,280.69 L184.8,279.86 L186.1,279.04 L187.4,278.23 L188.7,277.42 L190,276.63 L191.3,275.83 L192.6,275.05 L193.9,274.27 L195.2,273.5 L196.5,272.73 L197.8,271.97 L199.1,271.22 L200.4,270.47 L201.7,269.73 L203,269 L204.3,268.27 L205.6,267.55 L206.9,266.83 L208.2,266.12 L209.5,265.42 L210.8,264.72 L212.1,264.03 L213.4,263.34 L214.7,262.66 L216,261.99 L217.3,261.32 L218.6,260.65 L219.9,259.99 L221.2,259.34 L222.5,258.69 L223.8,258.05 L225.1,257.41 L226.4,256.78 L227.7,256.16 L229,255.54 L230.3,254.92 L231.6,254.31 L232.9,253.71 L234.2,253.11 L235.5,252.51 L236.8,251.92 L238.1,251.34 L239.4,250.75 L240.7,250.18 L242,249.61 L243.3,249.04 L244.6,248.48 L245.9,247.92 L247.2,247.37 L248.5,246.83 L249.8,246.28 L251.1,245.75 L252.4,245.21 L253.7,244.68 L255,244.16 L256.3,243.64 L257.6,243.12 L258.9,242.61 L260.2,242.1 L261.5,241.6 L262.8,241.1 L264.1,240.61 L265.4,240.11 L266.7,239.63 L268,239.15 L269.3,238.67 L270.6,238.19 L271.9,237.72 L273.2,237.26 L274.5,236.79 L275.8,236.33 L277.1,235.88 L278.4,235.43 L279.7,234.98 L281,234.54 L282.3,234.1 L283.6,233.66 L284.9,233.23 L286.2,232.8" fill="none" stroke="#ff1010" stroke-width="1.5" stroke-dasharray="3,2.2"/>
<rect x="78.2" y="222" width="208" height="153.45" stroke="#3a3a3a" stroke-width="1" fill="none"/>
<path d="M78.2,375.45 v-3 M78.2,222 v1 M91.2,375.45 v-1 M104.2,375.45 v-3 M104.2,222 v1 M117.2,375.45 v-1 M130.2,375.45 v-3 M130.2,222 v1 M143.2,375.45 v-1 M156.2,375.45 v-3 M156.2,222 v1 M169.2,375.45 v-1 M182.2,375.45 v-3 M182.2,222 v1 M195.2,375.45 v-1 M208.2,375.45 v-3 M208.2,222 v1 M221.2,375.45 v-1 M234.2,375.45 v-3 M234.2,222 v1 M247.2,375.45 v-1 M260.2,375.45 v-3 M260.2,222 v1 M273.2,375.45 v-1 M286.2,375.45 v-3 M286.2,222 v1 M78.2,375.45 h3 M78.2,361.45 h1 M78.2,347.45 h3 M78.2,333.45 h1 M78.2,319.45 h3 M78.2,305.45 h1 M78.2,291.45 h3 M78.2,277.45 h1 M78.2,263.45 h3 M78.2,249.45 h1 M78.2,235.45 h3 M78.2,221.45 h1 " stroke="#3a3a3a" stroke-width="0.8"/>
<text x="78.2" y="386.6" font-size="10.3" fill="#1e1e1e" stroke="#1e1e1e" text-anchor="middle">0</text>
<text x="104.2" y="386.6" font-size="10.3" fill="#1e1e1e" stroke="#1e1e1e" text-anchor="middle">1</text>
<text x="130.2" y="386.6" font-size="10.3" fill="#1e1e1e" stroke="#1e1e1e" text-anchor="middle">2</text>
<text x="156.2" y="386.6" font-size="10.3" fill="#1e1e1e" stroke="#1e1e1e" text-anchor="middle">3</text>
<text x="182.2" y="386.6" font-size="10.3" fill="#1e1e1e" stroke="#1e1e1e" text-anchor="middle">4</text>
<text x="208.2" y="386.6" font-size="10.3" fill="#1e1e1e" stroke="#1e1e1e" text-anchor="middle">5</text>
<text x="234.2" y="386.6" font-size="10.3" fill="#1e1e1e" stroke="#1e1e1e" text-anchor="middle">6</text>
<text x="260.2" y="386.6" font-size="10.3" fill="#1e1e1e" stroke="#1e1e1e" text-anchor="middle">7</text>
<text x="286.2" y="386.6" font-size="10.3" fill="#1e1e1e" stroke="#1e1e1e" text-anchor="middle">8</text>
<text x="74.7" y="378.85" font-size="10.3" fill="#1e1e1e" stroke="#1e1e1e" text-anchor="end">0.0</text>
<text x="74.7" y="350.85" font-size="10.3" fill="#1e1e1e" stroke="#1e1e1e" text-anchor="end">0.2</text>
<text x="74.7" y="322.85" font-size="10.3" fill="#1e1e1e" stroke="#1e1e1e" text-anchor="end">0.4</text>
<text x="74.7" y="294.85" font-size="10.3" fill="#1e1e1e" stroke="#1e1e1e" text-anchor="end">0.6</text>
<text x="74.7" y="266.85" font-size="10.3" fill="#1e1e1e" stroke="#1e1e1e" text-anchor="end">0.8</text>
<text x="74.7" y="238.85" font-size="10.3" fill="#1e1e1e" stroke="#1e1e1e" text-anchor="end">1.0</text>
<text x="107.8" y="404.8" font-size="12.2" fill="#1e1e1e" stroke="#1e1e1e">Number of graphene layers</text>
<text transform="translate(52.7,298.8) rotate(-90)" font-size="12.4" fill="#1e1e1e" stroke="#1e1e1e" text-anchor="middle">Intensity of G band (a.u.)</text>
<path d="M191.4,364 H207.6" stroke="#ff1010" stroke-width="1.5" stroke-dasharray="3,2.2"/>
<text x="211.9" y="366.9" font-size="10.2" fill="#1e1e1e" stroke="#1e1e1e">Exponential fit</text>
<g fill="none" stroke="#1e1e1e" stroke-width="1.0">
<ellipse cx="361.58" cy="230.5" rx="3.2" ry="2.9"/>
<ellipse cx="361.58" cy="236.41" rx="3.2" ry="2.9"/>
<ellipse cx="361.58" cy="258.97" rx="3.2" ry="2.9"/>
<ellipse cx="361.58" cy="271.49" rx="3.2" ry="2.9"/>
<ellipse cx="361.58" cy="273.51" rx="3.2" ry="2.9"/>
<ellipse cx="361.58" cy="276.05" rx="3.2" ry="2.9"/>
<ellipse cx="387.56" cy="318.54" rx="3.2" ry="2.9"/>
<ellipse cx="387.56" cy="319.98" rx="3.2" ry="2.9"/>
<ellipse cx="387.56" cy="321.51" rx="3.2" ry="2.9"/>
<ellipse cx="387.56" cy="323.49" rx="3.2" ry="2.9"/>
<ellipse cx="387.56" cy="329.05" rx="3.2" ry="2.9"/>
<ellipse cx="413.54" cy="332.51" rx="3.2" ry="2.9"/>
<ellipse cx="413.54" cy="336.49" rx="3.2" ry="2.9"/>
<ellipse cx="413.54" cy="337.98" rx="3.2" ry="2.9"/>
<ellipse cx="413.54" cy="340" rx="3.2" ry="2.9"/>
<ellipse cx="439.52" cy="340" rx="3.2" ry="2.9"/>
<ellipse cx="439.52" cy="341.49" rx="3.2" ry="2.9"/>
<ellipse cx="439.52" cy="343.5" rx="3.2" ry="2.9"/>
<ellipse cx="439.52" cy="344.99" rx="3.2" ry="2.9"/>
<ellipse cx="465.5" cy="349.5" rx="3.2" ry="2.9"/>
<ellipse cx="465.5" cy="350.29" rx="3.2" ry="2.9"/>
<ellipse cx="465.5" cy="350.99" rx="3.2" ry="2.9"/>
<ellipse cx="491.48" cy="343.02" rx="3.2" ry="2.9"/>
<ellipse cx="517.46" cy="341.01" rx="3.2" ry="2.9"/>
<ellipse cx="517.46" cy="343.06" rx="3.2" ry="2.9"/>
<ellipse cx="517.46" cy="344.99" rx="3.2" ry="2.9"/>
<ellipse cx="517.46" cy="347.01" rx="3.2" ry="2.9"/>
<ellipse cx="517.46" cy="349.02" rx="3.2" ry="2.9"/>
<ellipse cx="517.46" cy="350.6" rx="3.2" ry="2.9"/>
</g>
<path d="M353.18,221.5 L353.59,223.74 L354.63,229.18 L355.67,234.37 L356.7,239.34 L357.74,244.09 L358.77,248.62 L359.81,252.95 L360.85,257.09 L361.88,261.05 L362.92,264.83 L363.95,268.44 L364.99,271.89 L366.03,275.19 L367.06,278.34 L368.1,281.35 L369.13,284.23 L370.17,286.98 L371.21,289.61 L372.24,292.12 L373.28,294.51 L374.31,296.81 L375.35,299 L376.39,301.09 L377.42,303.09 L378.46,305 L379.49,306.82 L380.53,308.57 L381.57,310.24 L382.6,311.83 L383.64,313.35 L384.67,314.8 L385.71,316.19 L386.75,317.52 L387.78,318.79 L388.82,320 L389.85,321.16 L390.89,322.27 L391.93,323.33 L392.96,324.34 L394,325.3 L395.03,326.23 L396.07,327.11 L397.11,327.95 L398.14,328.76 L399.18,329.52 L400.21,330.26 L401.25,330.96 L402.29,331.63 L403.32,332.27 L404.36,332.89 L405.39,333.47 L406.43,334.03 L407.47,334.57 L408.5,335.08 L409.54,335.57 L410.57,336.03 L411.61,336.48 L412.65,336.9 L413.68,337.31 L414.72,337.7 L415.75,338.07 L416.79,338.43 L417.83,338.77 L418.86,339.09 L419.9,339.4 L420.93,339.7 L421.97,339.98 L423.01,340.25 L424.04,340.51 L425.08,340.75 L426.11,340.99 L427.15,341.21 L428.19,341.43 L429.22,341.64 L430.26,341.83 L431.29,342.02 L432.33,342.2 L433.37,342.37 L434.4,342.53 L435.44,342.69 L436.47,342.84 L437.51,342.98 L438.55,343.12 L439.58,343.25 L440.62,343.38 L441.65,343.49 L442.69,343.61 L443.73,343.72 L444.76,343.82 L445.8,343.92 L446.83,344.02 L447.87,344.11 L448.91,344.19 L449.94,344.28 L450.98,344.35 L452.01,344.43 L453.05,344.5 L454.09,344.57 L455.12,344.64 L456.16,344.7 L457.19,344.76 L458.23,344.82 L459.27,344.87 L460.3,344.93 L461.34,344.98 L462.37,345.02 L463.41,345.07 L464.45,345.11 L465.48,345.16 L466.52,345.2 L467.55,345.23 L468.59,345.27 L469.63,345.31 L470.66,345.34 L471.7,345.37 L472.73,345.4 L473.77,345.43 L474.81,345.46 L475.84,345.48 L476.88,345.51 L477.91,345.53 L478.95,345.56 L479.99,345.58 L481.02,345.6 L482.06,345.62 L483.09,345.64 L484.13,345.66 L485.17,345.68 L486.2,345.69 L487.24,345.71 L488.27,345.72 L489.31,345.74 L490.35,345.75 L491.38,345.77 L492.42,345.78 L493.45,345.79 L494.49,345.8 L495.53,345.82 L496.56,345.83 L497.6,345.84 L498.63,345.85 L499.67,345.86 L500.71,345.86 L501.74,345.87 L502.78,345.88 L503.81,345.89 L504.85,345.9 L505.89,345.9 L506.92,345.91 L507.96,345.92 L508.99,345.92 L510.03,345.93 L511.07,345.93 L512.1,345.94 L513.14,345.94 L514.17,345.95 L515.21,345.95 L516.25,345.96 L517.28,345.96 L518.32,345.97 L519.35,345.97 L520.39,345.97 L521.43,345.98 L522.46,345.98 L523.5,345.99 L524.53,345.99 L525.57,345.99 L526.61,345.99 L527.64,346 L528.68,346 L529.71,346 L530.75,346 L531.79,346.01 L532.82,346.01 L533.86,346.01 L534.89,346.01 L535.93,346.01 L536.97,346.02 L538,346.02 L539.04,346.02 L540.07,346.02 L541.11,346.02 L542.15,346.02 L543.18,346.03" fill="none" stroke="#1010ff" stroke-width="1.5" stroke-dasharray="2.6,1.7"/>
<rect x="335.6" y="221.5" width="208.3" height="153.3" stroke="#3a3a3a" stroke-width="1" fill="none"/>
<path d="M335.6,374.8 v-3 M335.6,221.5 v1 M348.59,374.8 v-1 M361.58,374.8 v-3 M361.58,221.5 v1 M374.57,374.8 v-1 M387.56,374.8 v-3 M387.56,221.5 v1 M400.55,374.8 v-1 M413.54,374.8 v-3 M413.54,221.5 v1 M426.53,374.8 v-1 M439.52,374.8 v-3 M439.52,221.5 v1 M452.51,374.8 v-1 M465.5,374.8 v-3 M465.5,221.5 v1 M478.49,374.8 v-1 M491.48,374.8 v-3 M491.48,221.5 v1 M504.47,374.8 v-1 M517.46,374.8 v-3 M517.46,221.5 v1 M530.45,374.8 v-1 M543.44,374.8 v-3 M543.44,221.5 v1 M335.6,374.8 h3 M335.6,363.85 h1 M335.6,352.9 h3 M335.6,341.95 h1 M335.6,331 h3 M335.6,320.05 h1 M335.6,309.1 h3 M335.6,298.15 h1 M335.6,287.2 h3 M335.6,276.25 h1 M335.6,265.3 h3 M335.6,254.35 h1 M335.6,243.4 h3 M335.6,232.45 h1 M335.6,221.5 h3 " stroke="#3a3a3a" stroke-width="0.8"/>
<text x="335.6" y="386.8" font-size="10.3" fill="#1e1e1e" stroke="#1e1e1e" text-anchor="middle">0</text>
<text x="361.58" y="386.8" font-size="10.3" fill="#1e1e1e" stroke="#1e1e1e" text-anchor="middle">1</text>
<text x="387.56" y="386.8" font-size="10.3" fill="#1e1e1e" stroke="#1e1e1e" text-anchor="middle">2</text>
<text x="413.54" y="386.8" font-size="10.3" fill="#1e1e1e" stroke="#1e1e1e" text-anchor="middle">3</text>
<text x="439.52" y="386.8" font-size="10.3" fill="#1e1e1e" stroke="#1e1e1e" text-anchor="middle">4</text>
<text x="465.5" y="386.8" font-size="10.3" fill="#1e1e1e" stroke="#1e1e1e" text-anchor="middle">5</text>
<text x="491.48" y="386.8" font-size="10.3" fill="#1e1e1e" stroke="#1e1e1e" text-anchor="middle">6</text>
<text x="517.46" y="386.8" font-size="10.3" fill="#1e1e1e" stroke="#1e1e1e" text-anchor="middle">7</text>
<text x="543.44" y="386.8" font-size="10.3" fill="#1e1e1e" stroke="#1e1e1e" text-anchor="middle">8</text>
<text x="332.2" y="378.4" font-size="10.3" fill="#1e1e1e" stroke="#1e1e1e" text-anchor="end">0.0</text>
<text x="332.2" y="356.5" font-size="10.3" fill="#1e1e1e" stroke="#1e1e1e" text-anchor="end">0.5</text>
<text x="332.2" y="334.6" font-size="10.3" fill="#1e1e1e" stroke="#1e1e1e" text-anchor="end">1.0</text>
<text x="332.2" y="312.7" font-size="10.3" fill="#1e1e1e" stroke="#1e1e1e" text-anchor="end">1.5</text>
<text x="332.2" y="290.8" font-size="10.3" fill="#1e1e1e" stroke="#1e1e1e" text-anchor="end">2.0</text>
<text x="332.2" y="268.9" font-size="10.3" fill="#1e1e1e" stroke="#1e1e1e" text-anchor="end">2.5</text>
<text x="332.2" y="247" font-size="10.3" fill="#1e1e1e" stroke="#1e1e1e" text-anchor="end">3.0</text>
<text x="332.2" y="225.1" font-size="10.3" fill="#1e1e1e" stroke="#1e1e1e" text-anchor="end">3.5</text>
<text x="365.9" y="404.5" font-size="12.2" fill="#1e1e1e" stroke="#1e1e1e">Number of graphene layers</text>
<text transform="translate(305.9,301.5) rotate(-90)" font-size="12.2" fill="#1e1e1e" stroke="#1e1e1e" text-anchor="middle">Intensity ratio, I<tspan font-size="8.5" dy="3.8">2D</tspan><tspan dy="-3.8">/I</tspan><tspan font-size="8.5" dy="3.8">G</tspan></text>
<path d="M449.4,364.7 H466" stroke="#1010ff" stroke-width="1.5" stroke-dasharray="2.6,1.7"/>
<text x="470.6" y="367.2" font-size="10" fill="#1e1e1e" stroke="#1e1e1e">Exponential fit</text>
</svg></body></html>
